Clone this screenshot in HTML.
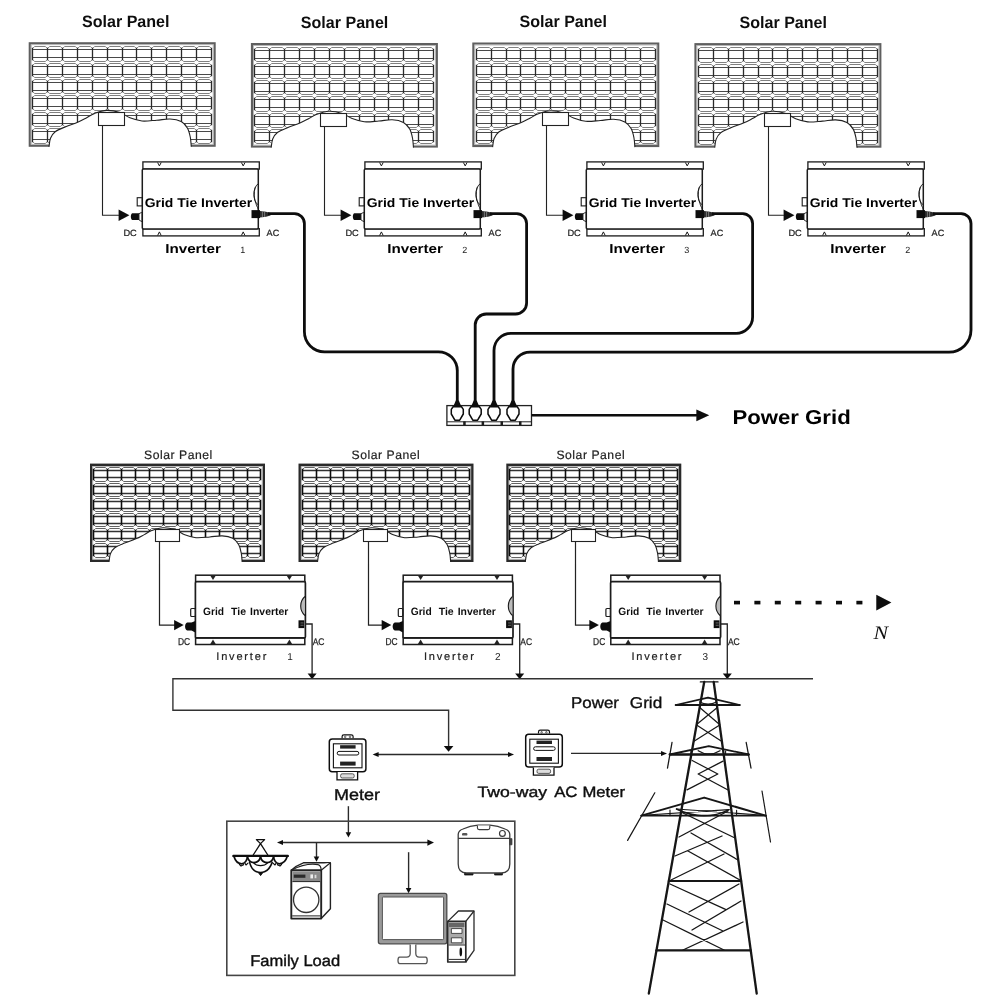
<!DOCTYPE html>
<html><head><meta charset="utf-8"><title>Grid Tie Inverter Wiring Diagram</title>
<style>html,body{margin:0;padding:0;background:#fff;}body{width:1000px;height:1000px;overflow:hidden;}svg{display:block;}</style>
</head><body>
<svg width="1000" height="1000" viewBox="0 0 1000 1000" text-rendering="geometricPrecision">
<rect width="1000" height="1000" fill="#fff"/>
<defs>
<filter id="soft" x="-2%" y="-2%" width="104%" height="104%"><feGaussianBlur stdDeviation="0.45"/></filter>
<filter id="soft2" x="-2%" y="-2%" width="104%" height="104%"><feGaussianBlur stdDeviation="0.3"/></filter>
<g id="invT">
<g fill="#fff" stroke="#1a1a1a" stroke-width="1.3">
<rect x="0.9" y="0.6" width="116.4" height="7.2"/>
<rect x="0.9" y="67.4" width="116.4" height="7.2"/>
<rect x="0.3" y="7.6" width="116" height="60" rx="1.2" stroke-width="1.5"/>
</g>
<g fill="none" stroke="#1a1a1a" stroke-width="1">
<path d="M15.6 1.2L17.4 4.6L19.2 1.2"/>
<path d="M99.4 1.2L101.2 4.6L103 1.2"/>
<path d="M15.6 74.2L17.4 70.6L19.2 74.2"/>
<path d="M99.4 74.2L101.2 70.6L103 74.2"/>
<path d="M116 22.5C110.5 27 110.5 39 116 43.5"/>
<path d="M113.2 26C111.6 31 112 38 114 42.5C115 46 116.4 47 116.6 49.5" stroke-width="0.9"/>
<rect x="-4.8" y="36.4" width="4.8" height="8.2" fill="#fff" stroke-width="1.1"/>
</g>
<path d="M-9.8 52H-2.9V58.8H-9.8C-11.6 57.8 -11.6 53 -9.8 52Z" fill="#111"/>
<path d="M-3 52.4L-0.2 51V60.4L-3 58.6Z" fill="#fff" stroke="#1a1a1a" stroke-width="0.9"/>
<path d="M-23.4 48.2L-12.6 54L-23.4 59.8Z" fill="#111"/>
<path d="M109.5 48.8H118V56.8H109.5Z" fill="#111"/>
<path d="M118 49.6L124 50.4L128.5 51.6V54.2L124 55.4L118 56.2Z" fill="#2a2a2a"/>
<path d="M120.4 50.2V55.8M122.6 50.4V55.6" stroke="#999" stroke-width="0.7"/>
</g>
<g id="invB">
<g fill="#fff" stroke="#1a1a1a" stroke-width="1.5">
<rect x="0.7" y="0.7" width="109.2" height="6.6"/>
<rect x="0.7" y="63.4" width="109.2" height="6.6"/>
<rect x="0.5" y="7.2" width="110" height="56.2" rx="1.2" stroke-width="1.7"/>
</g>
<g fill="#222" stroke="none">
<path d="M15.6 1.4H20.6L18.1 5.4Z"/>
<path d="M92 1.4H97L94.5 5.4Z"/>
<path d="M15.4 69.6L18.1 65L20.8 69.6Z"/>
<path d="M91.8 69.6L94.5 65L97.2 69.6Z"/>
</g>
<g fill="none" stroke="#1a1a1a" stroke-width="1.1">
<path d="M110 22C104.4 27 104.4 36 110 41" fill="#bbb"/>
<rect x="-4.2" y="34" width="4.4" height="8" rx="1" fill="#fff" stroke-width="1.2"/>
</g>
<path d="M-7.6 48H-3.4L0.4 46.6V58L-3.4 56H-7.6C-10.6 55 -10.6 49 -7.6 48Z" fill="#0c0c0c"/>
<path d="M-20.8 45.4L-11.2 50.6L-20.8 55.8Z" fill="#0c0c0c"/>
<rect x="103.6" y="45.8" width="5.8" height="7.8" fill="#111"/>
<path d="M105.6 48.4H108.6M105.6 50.8H108.6" stroke="#999" stroke-width="0.6"/>
</g>
<g id="meter">
<path d="M13.5 0V-1.6Q13.5 -3.4 15.3 -3.4H22.7Q24.5 -3.4 24.5 -1.6V0" fill="#fff" stroke="#111" stroke-width="1.2"/>
<circle cx="16.6" cy="-1.3" r="0.8" fill="#fff" stroke="#111" stroke-width="0.6"/><circle cx="21.4" cy="-1.3" r="0.8" fill="#fff" stroke="#111" stroke-width="0.6"/>
<rect x="0.7" y="0.7" width="36.6" height="32.8" rx="3" fill="#fff" stroke="#111" stroke-width="1.5"/>
<rect x="4.8" y="5.6" width="28.6" height="24" fill="#fff" stroke="#111" stroke-width="1.1"/>
<rect x="11.5" y="7" width="15.5" height="3.4" fill="#222"/>
<rect x="11.5" y="23.4" width="15.5" height="4" fill="#222"/>
<rect x="8.6" y="13.2" width="21.6" height="3.6" rx="1.8" fill="#fff" stroke="#111" stroke-width="1"/>
<path d="M8.4 33.8V41.6H29V33.8" fill="#fff" stroke="#111" stroke-width="1.3"/>
<rect x="12" y="35.6" width="13.6" height="4.2" rx="1.6" fill="#ddd" stroke="#333" stroke-width="0.8"/>
</g>
</defs>
<g filter="url(#soft2)">
<text x="82" y="27.2" font-family='"Liberation Sans", sans-serif' font-size="16.5" font-weight="bold" font-style="normal" fill="#111" textLength="87.5" lengthAdjust="spacingAndGlyphs" >Solar Panel</text>
<g filter="url(#soft)">
<rect x="29.75" y="43.25" width="184.9" height="102.5" fill="#fff" stroke="#5e5e5e" stroke-width="2.1"/>
<rect x="31.2" y="44.7" width="182.0" height="99.6" fill="none" stroke="#aaa" stroke-width="0.8"/>
<path d="M34.6 46.5L45.4 46.5L47.2 48.3M47.2 59.7L45.4 61.5L34.6 61.5L32.8 59.7M32.8 48.3L34.6 46.5M49.6 46.5L60.4 46.5L62.2 48.3M62.2 59.7L60.4 61.5L49.6 61.5L47.8 59.7M47.8 48.3L49.6 46.5M64.6 46.5L75.4 46.5L77.2 48.3M77.2 59.7L75.4 61.5L64.6 61.5L62.8 59.7M62.8 48.3L64.6 46.5M79.6 46.5L90.4 46.5L92.2 48.3M92.2 59.7L90.4 61.5L79.6 61.5L77.8 59.7M77.8 48.3L79.6 46.5M94.6 46.5L105.4 46.5L107.2 48.3M107.2 59.7L105.4 61.5L94.6 61.5L92.8 59.7M92.8 48.3L94.6 46.5M109.6 46.5L120.4 46.5L122.2 48.3M122.2 59.7L120.4 61.5L109.6 61.5L107.8 59.7M107.8 48.3L109.6 46.5M124.6 46.5L134.4 46.5L136.2 48.3M136.2 59.7L134.4 61.5L124.6 61.5L122.8 59.7M122.8 48.3L124.6 46.5M138.6 46.5L149.4 46.5L151.2 48.3M151.2 59.7L149.4 61.5L138.6 61.5L136.8 59.7M136.8 48.3L138.6 46.5M153.6 46.5L164.4 46.5L166.2 48.3M166.2 59.7L164.4 61.5L153.6 61.5L151.8 59.7M151.8 48.3L153.6 46.5M168.6 46.5L179.4 46.5L181.2 48.3M181.2 59.7L179.4 61.5L168.6 61.5L166.8 59.7M166.8 48.3L168.6 46.5M183.6 46.5L194.4 46.5L196.2 48.3M196.2 59.7L194.4 61.5L183.6 61.5L181.8 59.7M181.8 48.3L183.6 46.5M198.6 46.5L209.4 46.5L211.2 48.3M211.2 59.7L209.4 61.5L198.6 61.5L196.8 59.7M196.8 48.3L198.6 46.5M34.6 63.5L45.4 63.5L47.2 65.3M47.2 75.7L45.4 77.5L34.6 77.5L32.8 75.7M32.8 65.3L34.6 63.5M49.6 63.5L60.4 63.5L62.2 65.3M62.2 75.7L60.4 77.5L49.6 77.5L47.8 75.7M47.8 65.3L49.6 63.5M64.6 63.5L75.4 63.5L77.2 65.3M77.2 75.7L75.4 77.5L64.6 77.5L62.8 75.7M62.8 65.3L64.6 63.5M79.6 63.5L90.4 63.5L92.2 65.3M92.2 75.7L90.4 77.5L79.6 77.5L77.8 75.7M77.8 65.3L79.6 63.5M94.6 63.5L105.4 63.5L107.2 65.3M107.2 75.7L105.4 77.5L94.6 77.5L92.8 75.7M92.8 65.3L94.6 63.5M109.6 63.5L120.4 63.5L122.2 65.3M122.2 75.7L120.4 77.5L109.6 77.5L107.8 75.7M107.8 65.3L109.6 63.5M124.6 63.5L134.4 63.5L136.2 65.3M136.2 75.7L134.4 77.5L124.6 77.5L122.8 75.7M122.8 65.3L124.6 63.5M138.6 63.5L149.4 63.5L151.2 65.3M151.2 75.7L149.4 77.5L138.6 77.5L136.8 75.7M136.8 65.3L138.6 63.5M153.6 63.5L164.4 63.5L166.2 65.3M166.2 75.7L164.4 77.5L153.6 77.5L151.8 75.7M151.8 65.3L153.6 63.5M168.6 63.5L179.4 63.5L181.2 65.3M181.2 75.7L179.4 77.5L168.6 77.5L166.8 75.7M166.8 65.3L168.6 63.5M183.6 63.5L194.4 63.5L196.2 65.3M196.2 75.7L194.4 77.5L183.6 77.5L181.8 75.7M181.8 65.3L183.6 63.5M198.6 63.5L209.4 63.5L211.2 65.3M211.2 75.7L209.4 77.5L198.6 77.5L196.8 75.7M196.8 65.3L198.6 63.5M34.6 79.5L45.4 79.5L47.2 81.3M47.2 91.7L45.4 93.5L34.6 93.5L32.8 91.7M32.8 81.3L34.6 79.5M49.6 79.5L60.4 79.5L62.2 81.3M62.2 91.7L60.4 93.5L49.6 93.5L47.8 91.7M47.8 81.3L49.6 79.5M64.6 79.5L75.4 79.5L77.2 81.3M77.2 91.7L75.4 93.5L64.6 93.5L62.8 91.7M62.8 81.3L64.6 79.5M79.6 79.5L90.4 79.5L92.2 81.3M92.2 91.7L90.4 93.5L79.6 93.5L77.8 91.7M77.8 81.3L79.6 79.5M94.6 79.5L105.4 79.5L107.2 81.3M107.2 91.7L105.4 93.5L94.6 93.5L92.8 91.7M92.8 81.3L94.6 79.5M109.6 79.5L120.4 79.5L122.2 81.3M122.2 91.7L120.4 93.5L109.6 93.5L107.8 91.7M107.8 81.3L109.6 79.5M124.6 79.5L134.4 79.5L136.2 81.3M136.2 91.7L134.4 93.5L124.6 93.5L122.8 91.7M122.8 81.3L124.6 79.5M138.6 79.5L149.4 79.5L151.2 81.3M151.2 91.7L149.4 93.5L138.6 93.5L136.8 91.7M136.8 81.3L138.6 79.5M153.6 79.5L164.4 79.5L166.2 81.3M166.2 91.7L164.4 93.5L153.6 93.5L151.8 91.7M151.8 81.3L153.6 79.5M168.6 79.5L179.4 79.5L181.2 81.3M181.2 91.7L179.4 93.5L168.6 93.5L166.8 91.7M166.8 81.3L168.6 79.5M183.6 79.5L194.4 79.5L196.2 81.3M196.2 91.7L194.4 93.5L183.6 93.5L181.8 91.7M181.8 81.3L183.6 79.5M198.6 79.5L209.4 79.5L211.2 81.3M211.2 91.7L209.4 93.5L198.6 93.5L196.8 91.7M196.8 81.3L198.6 79.5M34.6 95.5L45.4 95.5L47.2 97.3M47.2 108.7L45.4 110.5L34.6 110.5L32.8 108.7M32.8 97.3L34.6 95.5M49.6 95.5L60.4 95.5L62.2 97.3M62.2 108.7L60.4 110.5L49.6 110.5L47.8 108.7M47.8 97.3L49.6 95.5M64.6 95.5L75.4 95.5L77.2 97.3M77.2 108.7L75.4 110.5L64.6 110.5L62.8 108.7M62.8 97.3L64.6 95.5M79.6 95.5L90.4 95.5L92.2 97.3M92.2 108.7L90.4 110.5L79.6 110.5L77.8 108.7M77.8 97.3L79.6 95.5M94.6 95.5L105.4 95.5L107.2 97.3M107.2 108.7L105.4 110.5L94.6 110.5L92.8 108.7M92.8 97.3L94.6 95.5M109.6 95.5L120.4 95.5L122.2 97.3M122.2 108.7L120.4 110.5L109.6 110.5L107.8 108.7M107.8 97.3L109.6 95.5M124.6 95.5L134.4 95.5L136.2 97.3M136.2 108.7L134.4 110.5L124.6 110.5L122.8 108.7M122.8 97.3L124.6 95.5M138.6 95.5L149.4 95.5L151.2 97.3M151.2 108.7L149.4 110.5L138.6 110.5L136.8 108.7M136.8 97.3L138.6 95.5M153.6 95.5L164.4 95.5L166.2 97.3M166.2 108.7L164.4 110.5L153.6 110.5L151.8 108.7M151.8 97.3L153.6 95.5M168.6 95.5L179.4 95.5L181.2 97.3M181.2 108.7L179.4 110.5L168.6 110.5L166.8 108.7M166.8 97.3L168.6 95.5M183.6 95.5L194.4 95.5L196.2 97.3M196.2 108.7L194.4 110.5L183.6 110.5L181.8 108.7M181.8 97.3L183.6 95.5M198.6 95.5L209.4 95.5L211.2 97.3M211.2 108.7L209.4 110.5L198.6 110.5L196.8 108.7M196.8 97.3L198.6 95.5M34.6 112.5L45.4 112.5L47.2 114.3M47.2 124.7L45.4 126.5L34.6 126.5L32.8 124.7M32.8 114.3L34.6 112.5M49.6 112.5L60.4 112.5L62.2 114.3M62.2 124.7L60.4 126.5L49.6 126.5L47.8 124.7M47.8 114.3L49.6 112.5M64.6 112.5L75.4 112.5L77.2 114.3M77.2 124.7L75.4 126.5L64.6 126.5L62.8 124.7M62.8 114.3L64.6 112.5M79.6 112.5L90.4 112.5L92.2 114.3M92.2 124.7L90.4 126.5L79.6 126.5L77.8 124.7M77.8 114.3L79.6 112.5M94.6 112.5L105.4 112.5L107.2 114.3M107.2 124.7L105.4 126.5L94.6 126.5L92.8 124.7M92.8 114.3L94.6 112.5M109.6 112.5L120.4 112.5L122.2 114.3M122.2 124.7L120.4 126.5L109.6 126.5L107.8 124.7M107.8 114.3L109.6 112.5M124.6 112.5L134.4 112.5L136.2 114.3M136.2 124.7L134.4 126.5L124.6 126.5L122.8 124.7M122.8 114.3L124.6 112.5M138.6 112.5L149.4 112.5L151.2 114.3M151.2 124.7L149.4 126.5L138.6 126.5L136.8 124.7M136.8 114.3L138.6 112.5M153.6 112.5L164.4 112.5L166.2 114.3M166.2 124.7L164.4 126.5L153.6 126.5L151.8 124.7M151.8 114.3L153.6 112.5M168.6 112.5L179.4 112.5L181.2 114.3M181.2 124.7L179.4 126.5L168.6 126.5L166.8 124.7M166.8 114.3L168.6 112.5M183.6 112.5L194.4 112.5L196.2 114.3M196.2 124.7L194.4 126.5L183.6 126.5L181.8 124.7M181.8 114.3L183.6 112.5M198.6 112.5L209.4 112.5L211.2 114.3M211.2 124.7L209.4 126.5L198.6 126.5L196.8 124.7M196.8 114.3L198.6 112.5M34.6 128.5L45.4 128.5L47.2 130.3M47.2 141.7L45.4 143.5L34.6 143.5L32.8 141.7M32.8 130.3L34.6 128.5M49.6 128.5L60.4 128.5L62.2 130.3M62.2 141.7L60.4 143.5L49.6 143.5L47.8 141.7M47.8 130.3L49.6 128.5M64.6 128.5L75.4 128.5L77.2 130.3M77.2 141.7L75.4 143.5L64.6 143.5L62.8 141.7M62.8 130.3L64.6 128.5M79.6 128.5L90.4 128.5L92.2 130.3M92.2 141.7L90.4 143.5L79.6 143.5L77.8 141.7M77.8 130.3L79.6 128.5M94.6 128.5L105.4 128.5L107.2 130.3M107.2 141.7L105.4 143.5L94.6 143.5L92.8 141.7M92.8 130.3L94.6 128.5M109.6 128.5L120.4 128.5L122.2 130.3M122.2 141.7L120.4 143.5L109.6 143.5L107.8 141.7M107.8 130.3L109.6 128.5M124.6 128.5L134.4 128.5L136.2 130.3M136.2 141.7L134.4 143.5L124.6 143.5L122.8 141.7M122.8 130.3L124.6 128.5M138.6 128.5L149.4 128.5L151.2 130.3M151.2 141.7L149.4 143.5L138.6 143.5L136.8 141.7M136.8 130.3L138.6 128.5M153.6 128.5L164.4 128.5L166.2 130.3M166.2 141.7L164.4 143.5L153.6 143.5L151.8 141.7M151.8 130.3L153.6 128.5M168.6 128.5L179.4 128.5L181.2 130.3M181.2 141.7L179.4 143.5L168.6 143.5L166.8 141.7M166.8 130.3L168.6 128.5M183.6 128.5L194.4 128.5L196.2 130.3M196.2 141.7L194.4 143.5L183.6 143.5L181.8 141.7M181.8 130.3L183.6 128.5M198.6 128.5L209.4 128.5L211.2 130.3M211.2 141.7L209.4 143.5L198.6 143.5L196.8 141.7M196.8 130.3L198.6 128.5" fill="none" stroke="#6a6a6a" stroke-width="0.85"/>
<path d="M32.8 49.5H47.2M32.8 57.5H47.2M47.8 49.5H62.2M47.8 57.5H62.2M62.8 49.5H77.2M62.8 57.5H77.2M77.8 49.5H92.2M77.8 57.5H92.2M92.8 49.5H107.2M92.8 57.5H107.2M107.8 49.5H122.2M107.8 57.5H122.2M122.8 49.5H136.2M122.8 57.5H136.2M136.8 49.5H151.2M136.8 57.5H151.2M151.8 49.5H166.2M151.8 57.5H166.2M166.8 49.5H181.2M166.8 57.5H181.2M181.8 49.5H196.2M181.8 57.5H196.2M196.8 49.5H211.2M196.8 57.5H211.2M32.8 66.5H47.2M32.8 74.5H47.2M47.8 66.5H62.2M47.8 74.5H62.2M62.8 66.5H77.2M62.8 74.5H77.2M77.8 66.5H92.2M77.8 74.5H92.2M92.8 66.5H107.2M92.8 74.5H107.2M107.8 66.5H122.2M107.8 74.5H122.2M122.8 66.5H136.2M122.8 74.5H136.2M136.8 66.5H151.2M136.8 74.5H151.2M151.8 66.5H166.2M151.8 74.5H166.2M166.8 66.5H181.2M166.8 74.5H181.2M181.8 66.5H196.2M181.8 74.5H196.2M196.8 66.5H211.2M196.8 74.5H211.2M32.8 82.5H47.2M32.8 90.5H47.2M47.8 82.5H62.2M47.8 90.5H62.2M62.8 82.5H77.2M62.8 90.5H77.2M77.8 82.5H92.2M77.8 90.5H92.2M92.8 82.5H107.2M92.8 90.5H107.2M107.8 82.5H122.2M107.8 90.5H122.2M122.8 82.5H136.2M122.8 90.5H136.2M136.8 82.5H151.2M136.8 90.5H151.2M151.8 82.5H166.2M151.8 90.5H166.2M166.8 82.5H181.2M166.8 90.5H181.2M181.8 82.5H196.2M181.8 90.5H196.2M196.8 82.5H211.2M196.8 90.5H211.2M32.8 98.5H47.2M32.8 106.5H47.2M47.8 98.5H62.2M47.8 106.5H62.2M62.8 98.5H77.2M62.8 106.5H77.2M77.8 98.5H92.2M77.8 106.5H92.2M92.8 98.5H107.2M92.8 106.5H107.2M107.8 98.5H122.2M107.8 106.5H122.2M122.8 98.5H136.2M122.8 106.5H136.2M136.8 98.5H151.2M136.8 106.5H151.2M151.8 98.5H166.2M151.8 106.5H166.2M166.8 98.5H181.2M166.8 106.5H181.2M181.8 98.5H196.2M181.8 106.5H196.2M196.8 98.5H211.2M196.8 106.5H211.2M32.8 115.5H47.2M32.8 123.5H47.2M47.8 115.5H62.2M47.8 123.5H62.2M62.8 115.5H77.2M62.8 123.5H77.2M77.8 115.5H92.2M77.8 123.5H92.2M92.8 115.5H107.2M92.8 123.5H107.2M107.8 115.5H122.2M107.8 123.5H122.2M122.8 115.5H136.2M122.8 123.5H136.2M136.8 115.5H151.2M136.8 123.5H151.2M151.8 115.5H166.2M151.8 123.5H166.2M166.8 115.5H181.2M166.8 123.5H181.2M181.8 115.5H196.2M181.8 123.5H196.2M196.8 115.5H211.2M196.8 123.5H211.2M32.8 131.5H47.2M32.8 139.5H47.2M47.8 131.5H62.2M47.8 139.5H62.2M62.8 131.5H77.2M62.8 139.5H77.2M77.8 131.5H92.2M77.8 139.5H92.2M92.8 131.5H107.2M92.8 139.5H107.2M107.8 131.5H122.2M107.8 139.5H122.2M122.8 131.5H136.2M122.8 139.5H136.2M136.8 131.5H151.2M136.8 139.5H151.2M151.8 131.5H166.2M151.8 139.5H166.2M166.8 131.5H181.2M166.8 139.5H181.2M181.8 131.5H196.2M181.8 139.5H196.2M196.8 131.5H211.2M196.8 139.5H211.2" fill="none" stroke="#4a4a4a" stroke-width="1.05"/>
<path d="M32.5 47.7V60.3M32.5 64.7V76.3M32.5 80.7V92.3M32.5 96.7V109.3M32.5 113.7V125.3M32.5 129.7V142.3M47.5 47.7V60.3M47.5 64.7V76.3M47.5 80.7V92.3M47.5 96.7V109.3M47.5 113.7V125.3M47.5 129.7V142.3M62.5 47.7V60.3M62.5 64.7V76.3M62.5 80.7V92.3M62.5 96.7V109.3M62.5 113.7V125.3M62.5 129.7V142.3M77.5 47.7V60.3M77.5 64.7V76.3M77.5 80.7V92.3M77.5 96.7V109.3M77.5 113.7V125.3M77.5 129.7V142.3M92.5 47.7V60.3M92.5 64.7V76.3M92.5 80.7V92.3M92.5 96.7V109.3M92.5 113.7V125.3M92.5 129.7V142.3M107.5 47.7V60.3M107.5 64.7V76.3M107.5 80.7V92.3M107.5 96.7V109.3M107.5 113.7V125.3M107.5 129.7V142.3M122.5 47.7V60.3M122.5 64.7V76.3M122.5 80.7V92.3M122.5 96.7V109.3M122.5 113.7V125.3M122.5 129.7V142.3M136.5 47.7V60.3M136.5 64.7V76.3M136.5 80.7V92.3M136.5 96.7V109.3M136.5 113.7V125.3M136.5 129.7V142.3M151.5 47.7V60.3M151.5 64.7V76.3M151.5 80.7V92.3M151.5 96.7V109.3M151.5 113.7V125.3M151.5 129.7V142.3M166.5 47.7V60.3M166.5 64.7V76.3M166.5 80.7V92.3M166.5 96.7V109.3M166.5 113.7V125.3M166.5 129.7V142.3M181.5 47.7V60.3M181.5 64.7V76.3M181.5 80.7V92.3M181.5 96.7V109.3M181.5 113.7V125.3M181.5 129.7V142.3M196.5 47.7V60.3M196.5 64.7V76.3M196.5 80.7V92.3M196.5 96.7V109.3M196.5 113.7V125.3M196.5 129.7V142.3M211.5 47.7V60.3M211.5 64.7V76.3M211.5 80.7V92.3M211.5 96.7V109.3M211.5 113.7V125.3M211.5 129.7V142.3" fill="none" stroke="#2a2a2a" stroke-width="1.3"/>
<path d="M49.00 146.80C49.25 145.37 49.47 140.72 50.50 138.20C51.53 135.68 52.67 133.62 55.20 131.70C57.73 129.78 61.95 128.28 65.70 126.70C69.45 125.12 74.20 123.70 77.70 122.20C81.20 120.70 83.87 119.17 86.70 117.70C89.53 116.23 91.37 114.62 94.70 113.40C98.03 112.18 102.48 110.53 106.70 110.40C110.92 110.27 116.12 111.37 120.00 112.60C123.88 113.83 126.33 116.40 130.00 117.80C133.67 119.20 137.55 120.60 142.00 121.00C146.45 121.40 152.03 120.53 156.70 120.20C161.37 119.87 165.92 118.77 170.00 119.00C174.08 119.23 178.28 120.07 181.20 121.60C184.12 123.13 185.98 125.60 187.50 128.20C189.02 130.80 189.67 134.10 190.30 137.20C190.93 140.30 191.13 145.20 191.30 146.80L191.30 148.80L49.00 148.80Z" fill="#fff" stroke="none"/>
<path d="M49.00 146.80C49.25 145.37 49.47 140.72 50.50 138.20C51.53 135.68 52.67 133.62 55.20 131.70C57.73 129.78 61.95 128.28 65.70 126.70C69.45 125.12 74.20 123.70 77.70 122.20C81.20 120.70 83.87 119.17 86.70 117.70C89.53 116.23 91.37 114.62 94.70 113.40C98.03 112.18 102.48 110.53 106.70 110.40C110.92 110.27 116.12 111.37 120.00 112.60C123.88 113.83 126.33 116.40 130.00 117.80C133.67 119.20 137.55 120.60 142.00 121.00C146.45 121.40 152.03 120.53 156.70 120.20C161.37 119.87 165.92 118.77 170.00 119.00C174.08 119.23 178.28 120.07 181.20 121.60C184.12 123.13 185.98 125.60 187.50 128.20C189.02 130.80 189.67 134.10 190.30 137.20C190.93 140.30 191.13 145.20 191.30 146.80" fill="none" stroke="#222" stroke-width="1.1"/>
<rect x="98.5" y="112.5" width="26" height="13" fill="#fff" stroke="#222" stroke-width="1.1"/>
</g>
<path d="M102.5 125.7V215.3H119" fill="none" stroke="#222" stroke-width="1.1"/>
<use href="#invT" x="142" y="161.3"/>
<text x="144.7" y="206.9" font-family='"Liberation Sans", sans-serif' font-size="12.6" font-weight="bold" font-style="normal" fill="#000" textLength="107.5" lengthAdjust="spacingAndGlyphs" >Grid Tie Inverter</text>
<text x="123.4" y="236.2" font-family='"Liberation Sans", sans-serif' font-size="9" font-weight="normal" font-style="normal" fill="#222" stroke="#222" stroke-width="0.2" textLength="13.4" lengthAdjust="spacingAndGlyphs" >DC</text>
<text x="266.6" y="236.2" font-family='"Liberation Sans", sans-serif' font-size="9" font-weight="normal" font-style="normal" fill="#222" stroke="#222" stroke-width="0.2" textLength="12.6" lengthAdjust="spacingAndGlyphs" >AC</text>
<text x="165.2" y="252.8" font-family='"Liberation Sans", sans-serif' font-size="13" font-weight="bold" font-style="normal" fill="#000" textLength="55.8" lengthAdjust="spacingAndGlyphs" >Inverter</text>
<text x="240.2" y="253.4" font-family='"Liberation Sans", sans-serif' font-size="9" font-weight="normal" font-style="normal" fill="#222" >1</text>
<text x="300.8" y="28.2" font-family='"Liberation Sans", sans-serif' font-size="16.5" font-weight="bold" font-style="normal" fill="#111" textLength="87.5" lengthAdjust="spacingAndGlyphs" >Solar Panel</text>
<g filter="url(#soft)">
<rect x="251.95000000000002" y="44.05" width="184.9" height="102.5" fill="#fff" stroke="#5e5e5e" stroke-width="2.1"/>
<rect x="253.4" y="45.5" width="182.0" height="99.6" fill="none" stroke="#aaa" stroke-width="0.8"/>
<path d="M256.6 47.5L267.4 47.5L269.2 49.3M269.2 59.7L267.4 61.5L256.6 61.5L254.8 59.7M254.8 49.3L256.6 47.5M271.6 47.5L282.4 47.5L284.2 49.3M284.2 59.7L282.4 61.5L271.6 61.5L269.8 59.7M269.8 49.3L271.6 47.5M286.6 47.5L297.4 47.5L299.2 49.3M299.2 59.7L297.4 61.5L286.6 61.5L284.8 59.7M284.8 49.3L286.6 47.5M301.6 47.5L312.4 47.5L314.2 49.3M314.2 59.7L312.4 61.5L301.6 61.5L299.8 59.7M299.8 49.3L301.6 47.5M316.6 47.5L327.4 47.5L329.2 49.3M329.2 59.7L327.4 61.5L316.6 61.5L314.8 59.7M314.8 49.3L316.6 47.5M331.6 47.5L342.4 47.5L344.2 49.3M344.2 59.7L342.4 61.5L331.6 61.5L329.8 59.7M329.8 49.3L331.6 47.5M346.6 47.5L357.4 47.5L359.2 49.3M359.2 59.7L357.4 61.5L346.6 61.5L344.8 59.7M344.8 49.3L346.6 47.5M361.6 47.5L372.4 47.5L374.2 49.3M374.2 59.7L372.4 61.5L361.6 61.5L359.8 59.7M359.8 49.3L361.6 47.5M376.6 47.5L386.4 47.5L388.2 49.3M388.2 59.7L386.4 61.5L376.6 61.5L374.8 59.7M374.8 49.3L376.6 47.5M390.6 47.5L401.4 47.5L403.2 49.3M403.2 59.7L401.4 61.5L390.6 61.5L388.8 59.7M388.8 49.3L390.6 47.5M405.6 47.5L416.4 47.5L418.2 49.3M418.2 59.7L416.4 61.5L405.6 61.5L403.8 59.7M403.8 49.3L405.6 47.5M420.6 47.5L431.4 47.5L433.2 49.3M433.2 59.7L431.4 61.5L420.6 61.5L418.8 59.7M418.8 49.3L420.6 47.5M256.6 63.5L267.4 63.5L269.2 65.3M269.2 76.7L267.4 78.5L256.6 78.5L254.8 76.7M254.8 65.3L256.6 63.5M271.6 63.5L282.4 63.5L284.2 65.3M284.2 76.7L282.4 78.5L271.6 78.5L269.8 76.7M269.8 65.3L271.6 63.5M286.6 63.5L297.4 63.5L299.2 65.3M299.2 76.7L297.4 78.5L286.6 78.5L284.8 76.7M284.8 65.3L286.6 63.5M301.6 63.5L312.4 63.5L314.2 65.3M314.2 76.7L312.4 78.5L301.6 78.5L299.8 76.7M299.8 65.3L301.6 63.5M316.6 63.5L327.4 63.5L329.2 65.3M329.2 76.7L327.4 78.5L316.6 78.5L314.8 76.7M314.8 65.3L316.6 63.5M331.6 63.5L342.4 63.5L344.2 65.3M344.2 76.7L342.4 78.5L331.6 78.5L329.8 76.7M329.8 65.3L331.6 63.5M346.6 63.5L357.4 63.5L359.2 65.3M359.2 76.7L357.4 78.5L346.6 78.5L344.8 76.7M344.8 65.3L346.6 63.5M361.6 63.5L372.4 63.5L374.2 65.3M374.2 76.7L372.4 78.5L361.6 78.5L359.8 76.7M359.8 65.3L361.6 63.5M376.6 63.5L386.4 63.5L388.2 65.3M388.2 76.7L386.4 78.5L376.6 78.5L374.8 76.7M374.8 65.3L376.6 63.5M390.6 63.5L401.4 63.5L403.2 65.3M403.2 76.7L401.4 78.5L390.6 78.5L388.8 76.7M388.8 65.3L390.6 63.5M405.6 63.5L416.4 63.5L418.2 65.3M418.2 76.7L416.4 78.5L405.6 78.5L403.8 76.7M403.8 65.3L405.6 63.5M420.6 63.5L431.4 63.5L433.2 65.3M433.2 76.7L431.4 78.5L420.6 78.5L418.8 76.7M418.8 65.3L420.6 63.5M256.6 80.5L267.4 80.5L269.2 82.3M269.2 92.7L267.4 94.5L256.6 94.5L254.8 92.7M254.8 82.3L256.6 80.5M271.6 80.5L282.4 80.5L284.2 82.3M284.2 92.7L282.4 94.5L271.6 94.5L269.8 92.7M269.8 82.3L271.6 80.5M286.6 80.5L297.4 80.5L299.2 82.3M299.2 92.7L297.4 94.5L286.6 94.5L284.8 92.7M284.8 82.3L286.6 80.5M301.6 80.5L312.4 80.5L314.2 82.3M314.2 92.7L312.4 94.5L301.6 94.5L299.8 92.7M299.8 82.3L301.6 80.5M316.6 80.5L327.4 80.5L329.2 82.3M329.2 92.7L327.4 94.5L316.6 94.5L314.8 92.7M314.8 82.3L316.6 80.5M331.6 80.5L342.4 80.5L344.2 82.3M344.2 92.7L342.4 94.5L331.6 94.5L329.8 92.7M329.8 82.3L331.6 80.5M346.6 80.5L357.4 80.5L359.2 82.3M359.2 92.7L357.4 94.5L346.6 94.5L344.8 92.7M344.8 82.3L346.6 80.5M361.6 80.5L372.4 80.5L374.2 82.3M374.2 92.7L372.4 94.5L361.6 94.5L359.8 92.7M359.8 82.3L361.6 80.5M376.6 80.5L386.4 80.5L388.2 82.3M388.2 92.7L386.4 94.5L376.6 94.5L374.8 92.7M374.8 82.3L376.6 80.5M390.6 80.5L401.4 80.5L403.2 82.3M403.2 92.7L401.4 94.5L390.6 94.5L388.8 92.7M388.8 82.3L390.6 80.5M405.6 80.5L416.4 80.5L418.2 82.3M418.2 92.7L416.4 94.5L405.6 94.5L403.8 92.7M403.8 82.3L405.6 80.5M420.6 80.5L431.4 80.5L433.2 82.3M433.2 92.7L431.4 94.5L420.6 94.5L418.8 92.7M418.8 82.3L420.6 80.5M256.6 96.5L267.4 96.5L269.2 98.3M269.2 109.7L267.4 111.5L256.6 111.5L254.8 109.7M254.8 98.3L256.6 96.5M271.6 96.5L282.4 96.5L284.2 98.3M284.2 109.7L282.4 111.5L271.6 111.5L269.8 109.7M269.8 98.3L271.6 96.5M286.6 96.5L297.4 96.5L299.2 98.3M299.2 109.7L297.4 111.5L286.6 111.5L284.8 109.7M284.8 98.3L286.6 96.5M301.6 96.5L312.4 96.5L314.2 98.3M314.2 109.7L312.4 111.5L301.6 111.5L299.8 109.7M299.8 98.3L301.6 96.5M316.6 96.5L327.4 96.5L329.2 98.3M329.2 109.7L327.4 111.5L316.6 111.5L314.8 109.7M314.8 98.3L316.6 96.5M331.6 96.5L342.4 96.5L344.2 98.3M344.2 109.7L342.4 111.5L331.6 111.5L329.8 109.7M329.8 98.3L331.6 96.5M346.6 96.5L357.4 96.5L359.2 98.3M359.2 109.7L357.4 111.5L346.6 111.5L344.8 109.7M344.8 98.3L346.6 96.5M361.6 96.5L372.4 96.5L374.2 98.3M374.2 109.7L372.4 111.5L361.6 111.5L359.8 109.7M359.8 98.3L361.6 96.5M376.6 96.5L386.4 96.5L388.2 98.3M388.2 109.7L386.4 111.5L376.6 111.5L374.8 109.7M374.8 98.3L376.6 96.5M390.6 96.5L401.4 96.5L403.2 98.3M403.2 109.7L401.4 111.5L390.6 111.5L388.8 109.7M388.8 98.3L390.6 96.5M405.6 96.5L416.4 96.5L418.2 98.3M418.2 109.7L416.4 111.5L405.6 111.5L403.8 109.7M403.8 98.3L405.6 96.5M420.6 96.5L431.4 96.5L433.2 98.3M433.2 109.7L431.4 111.5L420.6 111.5L418.8 109.7M418.8 98.3L420.6 96.5M256.6 113.5L267.4 113.5L269.2 115.3M269.2 125.7L267.4 127.5L256.6 127.5L254.8 125.7M254.8 115.3L256.6 113.5M271.6 113.5L282.4 113.5L284.2 115.3M284.2 125.7L282.4 127.5L271.6 127.5L269.8 125.7M269.8 115.3L271.6 113.5M286.6 113.5L297.4 113.5L299.2 115.3M299.2 125.7L297.4 127.5L286.6 127.5L284.8 125.7M284.8 115.3L286.6 113.5M301.6 113.5L312.4 113.5L314.2 115.3M314.2 125.7L312.4 127.5L301.6 127.5L299.8 125.7M299.8 115.3L301.6 113.5M316.6 113.5L327.4 113.5L329.2 115.3M329.2 125.7L327.4 127.5L316.6 127.5L314.8 125.7M314.8 115.3L316.6 113.5M331.6 113.5L342.4 113.5L344.2 115.3M344.2 125.7L342.4 127.5L331.6 127.5L329.8 125.7M329.8 115.3L331.6 113.5M346.6 113.5L357.4 113.5L359.2 115.3M359.2 125.7L357.4 127.5L346.6 127.5L344.8 125.7M344.8 115.3L346.6 113.5M361.6 113.5L372.4 113.5L374.2 115.3M374.2 125.7L372.4 127.5L361.6 127.5L359.8 125.7M359.8 115.3L361.6 113.5M376.6 113.5L386.4 113.5L388.2 115.3M388.2 125.7L386.4 127.5L376.6 127.5L374.8 125.7M374.8 115.3L376.6 113.5M390.6 113.5L401.4 113.5L403.2 115.3M403.2 125.7L401.4 127.5L390.6 127.5L388.8 125.7M388.8 115.3L390.6 113.5M405.6 113.5L416.4 113.5L418.2 115.3M418.2 125.7L416.4 127.5L405.6 127.5L403.8 125.7M403.8 115.3L405.6 113.5M420.6 113.5L431.4 113.5L433.2 115.3M433.2 125.7L431.4 127.5L420.6 127.5L418.8 125.7M418.8 115.3L420.6 113.5M256.6 129.5L267.4 129.5L269.2 131.3M269.2 141.7L267.4 143.5L256.6 143.5L254.8 141.7M254.8 131.3L256.6 129.5M271.6 129.5L282.4 129.5L284.2 131.3M284.2 141.7L282.4 143.5L271.6 143.5L269.8 141.7M269.8 131.3L271.6 129.5M286.6 129.5L297.4 129.5L299.2 131.3M299.2 141.7L297.4 143.5L286.6 143.5L284.8 141.7M284.8 131.3L286.6 129.5M301.6 129.5L312.4 129.5L314.2 131.3M314.2 141.7L312.4 143.5L301.6 143.5L299.8 141.7M299.8 131.3L301.6 129.5M316.6 129.5L327.4 129.5L329.2 131.3M329.2 141.7L327.4 143.5L316.6 143.5L314.8 141.7M314.8 131.3L316.6 129.5M331.6 129.5L342.4 129.5L344.2 131.3M344.2 141.7L342.4 143.5L331.6 143.5L329.8 141.7M329.8 131.3L331.6 129.5M346.6 129.5L357.4 129.5L359.2 131.3M359.2 141.7L357.4 143.5L346.6 143.5L344.8 141.7M344.8 131.3L346.6 129.5M361.6 129.5L372.4 129.5L374.2 131.3M374.2 141.7L372.4 143.5L361.6 143.5L359.8 141.7M359.8 131.3L361.6 129.5M376.6 129.5L386.4 129.5L388.2 131.3M388.2 141.7L386.4 143.5L376.6 143.5L374.8 141.7M374.8 131.3L376.6 129.5M390.6 129.5L401.4 129.5L403.2 131.3M403.2 141.7L401.4 143.5L390.6 143.5L388.8 141.7M388.8 131.3L390.6 129.5M405.6 129.5L416.4 129.5L418.2 131.3M418.2 141.7L416.4 143.5L405.6 143.5L403.8 141.7M403.8 131.3L405.6 129.5M420.6 129.5L431.4 129.5L433.2 131.3M433.2 141.7L431.4 143.5L420.6 143.5L418.8 141.7M418.8 131.3L420.6 129.5" fill="none" stroke="#6a6a6a" stroke-width="0.85"/>
<path d="M254.8 50.5H269.2M254.8 58.5H269.2M269.8 50.5H284.2M269.8 58.5H284.2M284.8 50.5H299.2M284.8 58.5H299.2M299.8 50.5H314.2M299.8 58.5H314.2M314.8 50.5H329.2M314.8 58.5H329.2M329.8 50.5H344.2M329.8 58.5H344.2M344.8 50.5H359.2M344.8 58.5H359.2M359.8 50.5H374.2M359.8 58.5H374.2M374.8 50.5H388.2M374.8 58.5H388.2M388.8 50.5H403.2M388.8 58.5H403.2M403.8 50.5H418.2M403.8 58.5H418.2M418.8 50.5H433.2M418.8 58.5H433.2M254.8 66.5H269.2M254.8 74.5H269.2M269.8 66.5H284.2M269.8 74.5H284.2M284.8 66.5H299.2M284.8 74.5H299.2M299.8 66.5H314.2M299.8 74.5H314.2M314.8 66.5H329.2M314.8 74.5H329.2M329.8 66.5H344.2M329.8 74.5H344.2M344.8 66.5H359.2M344.8 74.5H359.2M359.8 66.5H374.2M359.8 74.5H374.2M374.8 66.5H388.2M374.8 74.5H388.2M388.8 66.5H403.2M388.8 74.5H403.2M403.8 66.5H418.2M403.8 74.5H418.2M418.8 66.5H433.2M418.8 74.5H433.2M254.8 83.5H269.2M254.8 91.5H269.2M269.8 83.5H284.2M269.8 91.5H284.2M284.8 83.5H299.2M284.8 91.5H299.2M299.8 83.5H314.2M299.8 91.5H314.2M314.8 83.5H329.2M314.8 91.5H329.2M329.8 83.5H344.2M329.8 91.5H344.2M344.8 83.5H359.2M344.8 91.5H359.2M359.8 83.5H374.2M359.8 91.5H374.2M374.8 83.5H388.2M374.8 91.5H388.2M388.8 83.5H403.2M388.8 91.5H403.2M403.8 83.5H418.2M403.8 91.5H418.2M418.8 83.5H433.2M418.8 91.5H433.2M254.8 99.5H269.2M254.8 107.5H269.2M269.8 99.5H284.2M269.8 107.5H284.2M284.8 99.5H299.2M284.8 107.5H299.2M299.8 99.5H314.2M299.8 107.5H314.2M314.8 99.5H329.2M314.8 107.5H329.2M329.8 99.5H344.2M329.8 107.5H344.2M344.8 99.5H359.2M344.8 107.5H359.2M359.8 99.5H374.2M359.8 107.5H374.2M374.8 99.5H388.2M374.8 107.5H388.2M388.8 99.5H403.2M388.8 107.5H403.2M403.8 99.5H418.2M403.8 107.5H418.2M418.8 99.5H433.2M418.8 107.5H433.2M254.8 116.5H269.2M254.8 124.5H269.2M269.8 116.5H284.2M269.8 124.5H284.2M284.8 116.5H299.2M284.8 124.5H299.2M299.8 116.5H314.2M299.8 124.5H314.2M314.8 116.5H329.2M314.8 124.5H329.2M329.8 116.5H344.2M329.8 124.5H344.2M344.8 116.5H359.2M344.8 124.5H359.2M359.8 116.5H374.2M359.8 124.5H374.2M374.8 116.5H388.2M374.8 124.5H388.2M388.8 116.5H403.2M388.8 124.5H403.2M403.8 116.5H418.2M403.8 124.5H418.2M418.8 116.5H433.2M418.8 124.5H433.2M254.8 132.5H269.2M254.8 140.5H269.2M269.8 132.5H284.2M269.8 140.5H284.2M284.8 132.5H299.2M284.8 140.5H299.2M299.8 132.5H314.2M299.8 140.5H314.2M314.8 132.5H329.2M314.8 140.5H329.2M329.8 132.5H344.2M329.8 140.5H344.2M344.8 132.5H359.2M344.8 140.5H359.2M359.8 132.5H374.2M359.8 140.5H374.2M374.8 132.5H388.2M374.8 140.5H388.2M388.8 132.5H403.2M388.8 140.5H403.2M403.8 132.5H418.2M403.8 140.5H418.2M418.8 132.5H433.2M418.8 140.5H433.2" fill="none" stroke="#4a4a4a" stroke-width="1.05"/>
<path d="M254.5 48.7V60.3M254.5 64.7V77.3M254.5 81.7V93.3M254.5 97.7V110.3M254.5 114.7V126.3M254.5 130.7V142.3M269.5 48.7V60.3M269.5 64.7V77.3M269.5 81.7V93.3M269.5 97.7V110.3M269.5 114.7V126.3M269.5 130.7V142.3M284.5 48.7V60.3M284.5 64.7V77.3M284.5 81.7V93.3M284.5 97.7V110.3M284.5 114.7V126.3M284.5 130.7V142.3M299.5 48.7V60.3M299.5 64.7V77.3M299.5 81.7V93.3M299.5 97.7V110.3M299.5 114.7V126.3M299.5 130.7V142.3M314.5 48.7V60.3M314.5 64.7V77.3M314.5 81.7V93.3M314.5 97.7V110.3M314.5 114.7V126.3M314.5 130.7V142.3M329.5 48.7V60.3M329.5 64.7V77.3M329.5 81.7V93.3M329.5 97.7V110.3M329.5 114.7V126.3M329.5 130.7V142.3M344.5 48.7V60.3M344.5 64.7V77.3M344.5 81.7V93.3M344.5 97.7V110.3M344.5 114.7V126.3M344.5 130.7V142.3M359.5 48.7V60.3M359.5 64.7V77.3M359.5 81.7V93.3M359.5 97.7V110.3M359.5 114.7V126.3M359.5 130.7V142.3M374.5 48.7V60.3M374.5 64.7V77.3M374.5 81.7V93.3M374.5 97.7V110.3M374.5 114.7V126.3M374.5 130.7V142.3M388.5 48.7V60.3M388.5 64.7V77.3M388.5 81.7V93.3M388.5 97.7V110.3M388.5 114.7V126.3M388.5 130.7V142.3M403.5 48.7V60.3M403.5 64.7V77.3M403.5 81.7V93.3M403.5 97.7V110.3M403.5 114.7V126.3M403.5 130.7V142.3M418.5 48.7V60.3M418.5 64.7V77.3M418.5 81.7V93.3M418.5 97.7V110.3M418.5 114.7V126.3M418.5 130.7V142.3M433.5 48.7V60.3M433.5 64.7V77.3M433.5 81.7V93.3M433.5 97.7V110.3M433.5 114.7V126.3M433.5 130.7V142.3" fill="none" stroke="#2a2a2a" stroke-width="1.3"/>
<path d="M271.20 147.60C271.45 146.17 271.67 141.52 272.70 139.00C273.73 136.48 274.87 134.42 277.40 132.50C279.93 130.58 284.15 129.08 287.90 127.50C291.65 125.92 296.40 124.50 299.90 123.00C303.40 121.50 306.07 119.97 308.90 118.50C311.73 117.03 313.57 115.42 316.90 114.20C320.23 112.98 324.68 111.33 328.90 111.20C333.12 111.07 338.32 112.17 342.20 113.40C346.08 114.63 348.53 117.20 352.20 118.60C355.87 120.00 359.75 121.40 364.20 121.80C368.65 122.20 374.23 121.33 378.90 121.00C383.57 120.67 388.12 119.57 392.20 119.80C396.28 120.03 400.48 120.87 403.40 122.40C406.32 123.93 408.18 126.40 409.70 129.00C411.22 131.60 411.87 134.90 412.50 138.00C413.13 141.10 413.33 146.00 413.50 147.60L413.50 149.60L271.20 149.60Z" fill="#fff" stroke="none"/>
<path d="M271.20 147.60C271.45 146.17 271.67 141.52 272.70 139.00C273.73 136.48 274.87 134.42 277.40 132.50C279.93 130.58 284.15 129.08 287.90 127.50C291.65 125.92 296.40 124.50 299.90 123.00C303.40 121.50 306.07 119.97 308.90 118.50C311.73 117.03 313.57 115.42 316.90 114.20C320.23 112.98 324.68 111.33 328.90 111.20C333.12 111.07 338.32 112.17 342.20 113.40C346.08 114.63 348.53 117.20 352.20 118.60C355.87 120.00 359.75 121.40 364.20 121.80C368.65 122.20 374.23 121.33 378.90 121.00C383.57 120.67 388.12 119.57 392.20 119.80C396.28 120.03 400.48 120.87 403.40 122.40C406.32 123.93 408.18 126.40 409.70 129.00C411.22 131.60 411.87 134.90 412.50 138.00C413.13 141.10 413.33 146.00 413.50 147.60" fill="none" stroke="#222" stroke-width="1.1"/>
<rect x="320.5" y="113.5" width="26" height="13" fill="#fff" stroke="#222" stroke-width="1.1"/>
</g>
<path d="M324.5 126.5V215.3H341" fill="none" stroke="#222" stroke-width="1.1"/>
<use href="#invT" x="364" y="161.3"/>
<text x="366.7" y="206.9" font-family='"Liberation Sans", sans-serif' font-size="12.6" font-weight="bold" font-style="normal" fill="#000" textLength="107.5" lengthAdjust="spacingAndGlyphs" >Grid Tie Inverter</text>
<text x="345.4" y="236.2" font-family='"Liberation Sans", sans-serif' font-size="9" font-weight="normal" font-style="normal" fill="#222" stroke="#222" stroke-width="0.2" textLength="13.4" lengthAdjust="spacingAndGlyphs" >DC</text>
<text x="488.6" y="236.2" font-family='"Liberation Sans", sans-serif' font-size="9" font-weight="normal" font-style="normal" fill="#222" stroke="#222" stroke-width="0.2" textLength="12.6" lengthAdjust="spacingAndGlyphs" >AC</text>
<text x="387.2" y="252.8" font-family='"Liberation Sans", sans-serif' font-size="13" font-weight="bold" font-style="normal" fill="#000" textLength="55.8" lengthAdjust="spacingAndGlyphs" >Inverter</text>
<text x="462.2" y="253.4" font-family='"Liberation Sans", sans-serif' font-size="9" font-weight="normal" font-style="normal" fill="#222" >2</text>
<text x="519.5" y="26.6" font-family='"Liberation Sans", sans-serif' font-size="16.5" font-weight="bold" font-style="normal" fill="#111" textLength="87.5" lengthAdjust="spacingAndGlyphs" >Solar Panel</text>
<g filter="url(#soft)">
<rect x="473.35" y="43.55" width="184.9" height="102.5" fill="#fff" stroke="#5e5e5e" stroke-width="2.1"/>
<rect x="474.8" y="45.0" width="182.0" height="99.6" fill="none" stroke="#aaa" stroke-width="0.8"/>
<path d="M478.6 47.5L489.4 47.5L491.2 49.3M491.2 59.7L489.4 61.5L478.6 61.5L476.8 59.7M476.8 49.3L478.6 47.5M493.6 47.5L504.4 47.5L506.2 49.3M506.2 59.7L504.4 61.5L493.6 61.5L491.8 59.7M491.8 49.3L493.6 47.5M508.6 47.5L518.4 47.5L520.2 49.3M520.2 59.7L518.4 61.5L508.6 61.5L506.8 59.7M506.8 49.3L508.6 47.5M522.6 47.5L533.4 47.5L535.2 49.3M535.2 59.7L533.4 61.5L522.6 61.5L520.8 59.7M520.8 49.3L522.6 47.5M537.6 47.5L548.4 47.5L550.2 49.3M550.2 59.7L548.4 61.5L537.6 61.5L535.8 59.7M535.8 49.3L537.6 47.5M552.6 47.5L563.4 47.5L565.2 49.3M565.2 59.7L563.4 61.5L552.6 61.5L550.8 59.7M550.8 49.3L552.6 47.5M567.6 47.5L578.4 47.5L580.2 49.3M580.2 59.7L578.4 61.5L567.6 61.5L565.8 59.7M565.8 49.3L567.6 47.5M582.6 47.5L593.4 47.5L595.2 49.3M595.2 59.7L593.4 61.5L582.6 61.5L580.8 59.7M580.8 49.3L582.6 47.5M597.6 47.5L608.4 47.5L610.2 49.3M610.2 59.7L608.4 61.5L597.6 61.5L595.8 59.7M595.8 49.3L597.6 47.5M612.6 47.5L623.4 47.5L625.2 49.3M625.2 59.7L623.4 61.5L612.6 61.5L610.8 59.7M610.8 49.3L612.6 47.5M627.6 47.5L638.4 47.5L640.2 49.3M640.2 59.7L638.4 61.5L627.6 61.5L625.8 59.7M625.8 49.3L627.6 47.5M642.6 47.5L653.4 47.5L655.2 49.3M655.2 59.7L653.4 61.5L642.6 61.5L640.8 59.7M640.8 49.3L642.6 47.5M478.6 63.5L489.4 63.5L491.2 65.3M491.2 75.7L489.4 77.5L478.6 77.5L476.8 75.7M476.8 65.3L478.6 63.5M493.6 63.5L504.4 63.5L506.2 65.3M506.2 75.7L504.4 77.5L493.6 77.5L491.8 75.7M491.8 65.3L493.6 63.5M508.6 63.5L518.4 63.5L520.2 65.3M520.2 75.7L518.4 77.5L508.6 77.5L506.8 75.7M506.8 65.3L508.6 63.5M522.6 63.5L533.4 63.5L535.2 65.3M535.2 75.7L533.4 77.5L522.6 77.5L520.8 75.7M520.8 65.3L522.6 63.5M537.6 63.5L548.4 63.5L550.2 65.3M550.2 75.7L548.4 77.5L537.6 77.5L535.8 75.7M535.8 65.3L537.6 63.5M552.6 63.5L563.4 63.5L565.2 65.3M565.2 75.7L563.4 77.5L552.6 77.5L550.8 75.7M550.8 65.3L552.6 63.5M567.6 63.5L578.4 63.5L580.2 65.3M580.2 75.7L578.4 77.5L567.6 77.5L565.8 75.7M565.8 65.3L567.6 63.5M582.6 63.5L593.4 63.5L595.2 65.3M595.2 75.7L593.4 77.5L582.6 77.5L580.8 75.7M580.8 65.3L582.6 63.5M597.6 63.5L608.4 63.5L610.2 65.3M610.2 75.7L608.4 77.5L597.6 77.5L595.8 75.7M595.8 65.3L597.6 63.5M612.6 63.5L623.4 63.5L625.2 65.3M625.2 75.7L623.4 77.5L612.6 77.5L610.8 75.7M610.8 65.3L612.6 63.5M627.6 63.5L638.4 63.5L640.2 65.3M640.2 75.7L638.4 77.5L627.6 77.5L625.8 75.7M625.8 65.3L627.6 63.5M642.6 63.5L653.4 63.5L655.2 65.3M655.2 75.7L653.4 77.5L642.6 77.5L640.8 75.7M640.8 65.3L642.6 63.5M478.6 79.5L489.4 79.5L491.2 81.3M491.2 92.7L489.4 94.5L478.6 94.5L476.8 92.7M476.8 81.3L478.6 79.5M493.6 79.5L504.4 79.5L506.2 81.3M506.2 92.7L504.4 94.5L493.6 94.5L491.8 92.7M491.8 81.3L493.6 79.5M508.6 79.5L518.4 79.5L520.2 81.3M520.2 92.7L518.4 94.5L508.6 94.5L506.8 92.7M506.8 81.3L508.6 79.5M522.6 79.5L533.4 79.5L535.2 81.3M535.2 92.7L533.4 94.5L522.6 94.5L520.8 92.7M520.8 81.3L522.6 79.5M537.6 79.5L548.4 79.5L550.2 81.3M550.2 92.7L548.4 94.5L537.6 94.5L535.8 92.7M535.8 81.3L537.6 79.5M552.6 79.5L563.4 79.5L565.2 81.3M565.2 92.7L563.4 94.5L552.6 94.5L550.8 92.7M550.8 81.3L552.6 79.5M567.6 79.5L578.4 79.5L580.2 81.3M580.2 92.7L578.4 94.5L567.6 94.5L565.8 92.7M565.8 81.3L567.6 79.5M582.6 79.5L593.4 79.5L595.2 81.3M595.2 92.7L593.4 94.5L582.6 94.5L580.8 92.7M580.8 81.3L582.6 79.5M597.6 79.5L608.4 79.5L610.2 81.3M610.2 92.7L608.4 94.5L597.6 94.5L595.8 92.7M595.8 81.3L597.6 79.5M612.6 79.5L623.4 79.5L625.2 81.3M625.2 92.7L623.4 94.5L612.6 94.5L610.8 92.7M610.8 81.3L612.6 79.5M627.6 79.5L638.4 79.5L640.2 81.3M640.2 92.7L638.4 94.5L627.6 94.5L625.8 92.7M625.8 81.3L627.6 79.5M642.6 79.5L653.4 79.5L655.2 81.3M655.2 92.7L653.4 94.5L642.6 94.5L640.8 92.7M640.8 81.3L642.6 79.5M478.6 96.5L489.4 96.5L491.2 98.3M491.2 108.7L489.4 110.5L478.6 110.5L476.8 108.7M476.8 98.3L478.6 96.5M493.6 96.5L504.4 96.5L506.2 98.3M506.2 108.7L504.4 110.5L493.6 110.5L491.8 108.7M491.8 98.3L493.6 96.5M508.6 96.5L518.4 96.5L520.2 98.3M520.2 108.7L518.4 110.5L508.6 110.5L506.8 108.7M506.8 98.3L508.6 96.5M522.6 96.5L533.4 96.5L535.2 98.3M535.2 108.7L533.4 110.5L522.6 110.5L520.8 108.7M520.8 98.3L522.6 96.5M537.6 96.5L548.4 96.5L550.2 98.3M550.2 108.7L548.4 110.5L537.6 110.5L535.8 108.7M535.8 98.3L537.6 96.5M552.6 96.5L563.4 96.5L565.2 98.3M565.2 108.7L563.4 110.5L552.6 110.5L550.8 108.7M550.8 98.3L552.6 96.5M567.6 96.5L578.4 96.5L580.2 98.3M580.2 108.7L578.4 110.5L567.6 110.5L565.8 108.7M565.8 98.3L567.6 96.5M582.6 96.5L593.4 96.5L595.2 98.3M595.2 108.7L593.4 110.5L582.6 110.5L580.8 108.7M580.8 98.3L582.6 96.5M597.6 96.5L608.4 96.5L610.2 98.3M610.2 108.7L608.4 110.5L597.6 110.5L595.8 108.7M595.8 98.3L597.6 96.5M612.6 96.5L623.4 96.5L625.2 98.3M625.2 108.7L623.4 110.5L612.6 110.5L610.8 108.7M610.8 98.3L612.6 96.5M627.6 96.5L638.4 96.5L640.2 98.3M640.2 108.7L638.4 110.5L627.6 110.5L625.8 108.7M625.8 98.3L627.6 96.5M642.6 96.5L653.4 96.5L655.2 98.3M655.2 108.7L653.4 110.5L642.6 110.5L640.8 108.7M640.8 98.3L642.6 96.5M478.6 112.5L489.4 112.5L491.2 114.3M491.2 125.7L489.4 127.5L478.6 127.5L476.8 125.7M476.8 114.3L478.6 112.5M493.6 112.5L504.4 112.5L506.2 114.3M506.2 125.7L504.4 127.5L493.6 127.5L491.8 125.7M491.8 114.3L493.6 112.5M508.6 112.5L518.4 112.5L520.2 114.3M520.2 125.7L518.4 127.5L508.6 127.5L506.8 125.7M506.8 114.3L508.6 112.5M522.6 112.5L533.4 112.5L535.2 114.3M535.2 125.7L533.4 127.5L522.6 127.5L520.8 125.7M520.8 114.3L522.6 112.5M537.6 112.5L548.4 112.5L550.2 114.3M550.2 125.7L548.4 127.5L537.6 127.5L535.8 125.7M535.8 114.3L537.6 112.5M552.6 112.5L563.4 112.5L565.2 114.3M565.2 125.7L563.4 127.5L552.6 127.5L550.8 125.7M550.8 114.3L552.6 112.5M567.6 112.5L578.4 112.5L580.2 114.3M580.2 125.7L578.4 127.5L567.6 127.5L565.8 125.7M565.8 114.3L567.6 112.5M582.6 112.5L593.4 112.5L595.2 114.3M595.2 125.7L593.4 127.5L582.6 127.5L580.8 125.7M580.8 114.3L582.6 112.5M597.6 112.5L608.4 112.5L610.2 114.3M610.2 125.7L608.4 127.5L597.6 127.5L595.8 125.7M595.8 114.3L597.6 112.5M612.6 112.5L623.4 112.5L625.2 114.3M625.2 125.7L623.4 127.5L612.6 127.5L610.8 125.7M610.8 114.3L612.6 112.5M627.6 112.5L638.4 112.5L640.2 114.3M640.2 125.7L638.4 127.5L627.6 127.5L625.8 125.7M625.8 114.3L627.6 112.5M642.6 112.5L653.4 112.5L655.2 114.3M655.2 125.7L653.4 127.5L642.6 127.5L640.8 125.7M640.8 114.3L642.6 112.5M478.6 129.5L489.4 129.5L491.2 131.3M491.2 141.7L489.4 143.5L478.6 143.5L476.8 141.7M476.8 131.3L478.6 129.5M493.6 129.5L504.4 129.5L506.2 131.3M506.2 141.7L504.4 143.5L493.6 143.5L491.8 141.7M491.8 131.3L493.6 129.5M508.6 129.5L518.4 129.5L520.2 131.3M520.2 141.7L518.4 143.5L508.6 143.5L506.8 141.7M506.8 131.3L508.6 129.5M522.6 129.5L533.4 129.5L535.2 131.3M535.2 141.7L533.4 143.5L522.6 143.5L520.8 141.7M520.8 131.3L522.6 129.5M537.6 129.5L548.4 129.5L550.2 131.3M550.2 141.7L548.4 143.5L537.6 143.5L535.8 141.7M535.8 131.3L537.6 129.5M552.6 129.5L563.4 129.5L565.2 131.3M565.2 141.7L563.4 143.5L552.6 143.5L550.8 141.7M550.8 131.3L552.6 129.5M567.6 129.5L578.4 129.5L580.2 131.3M580.2 141.7L578.4 143.5L567.6 143.5L565.8 141.7M565.8 131.3L567.6 129.5M582.6 129.5L593.4 129.5L595.2 131.3M595.2 141.7L593.4 143.5L582.6 143.5L580.8 141.7M580.8 131.3L582.6 129.5M597.6 129.5L608.4 129.5L610.2 131.3M610.2 141.7L608.4 143.5L597.6 143.5L595.8 141.7M595.8 131.3L597.6 129.5M612.6 129.5L623.4 129.5L625.2 131.3M625.2 141.7L623.4 143.5L612.6 143.5L610.8 141.7M610.8 131.3L612.6 129.5M627.6 129.5L638.4 129.5L640.2 131.3M640.2 141.7L638.4 143.5L627.6 143.5L625.8 141.7M625.8 131.3L627.6 129.5M642.6 129.5L653.4 129.5L655.2 131.3M655.2 141.7L653.4 143.5L642.6 143.5L640.8 141.7M640.8 131.3L642.6 129.5" fill="none" stroke="#6a6a6a" stroke-width="0.85"/>
<path d="M476.8 50.5H491.2M476.8 58.5H491.2M491.8 50.5H506.2M491.8 58.5H506.2M506.8 50.5H520.2M506.8 58.5H520.2M520.8 50.5H535.2M520.8 58.5H535.2M535.8 50.5H550.2M535.8 58.5H550.2M550.8 50.5H565.2M550.8 58.5H565.2M565.8 50.5H580.2M565.8 58.5H580.2M580.8 50.5H595.2M580.8 58.5H595.2M595.8 50.5H610.2M595.8 58.5H610.2M610.8 50.5H625.2M610.8 58.5H625.2M625.8 50.5H640.2M625.8 58.5H640.2M640.8 50.5H655.2M640.8 58.5H655.2M476.8 66.5H491.2M476.8 74.5H491.2M491.8 66.5H506.2M491.8 74.5H506.2M506.8 66.5H520.2M506.8 74.5H520.2M520.8 66.5H535.2M520.8 74.5H535.2M535.8 66.5H550.2M535.8 74.5H550.2M550.8 66.5H565.2M550.8 74.5H565.2M565.8 66.5H580.2M565.8 74.5H580.2M580.8 66.5H595.2M580.8 74.5H595.2M595.8 66.5H610.2M595.8 74.5H610.2M610.8 66.5H625.2M610.8 74.5H625.2M625.8 66.5H640.2M625.8 74.5H640.2M640.8 66.5H655.2M640.8 74.5H655.2M476.8 82.5H491.2M476.8 90.5H491.2M491.8 82.5H506.2M491.8 90.5H506.2M506.8 82.5H520.2M506.8 90.5H520.2M520.8 82.5H535.2M520.8 90.5H535.2M535.8 82.5H550.2M535.8 90.5H550.2M550.8 82.5H565.2M550.8 90.5H565.2M565.8 82.5H580.2M565.8 90.5H580.2M580.8 82.5H595.2M580.8 90.5H595.2M595.8 82.5H610.2M595.8 90.5H610.2M610.8 82.5H625.2M610.8 90.5H625.2M625.8 82.5H640.2M625.8 90.5H640.2M640.8 82.5H655.2M640.8 90.5H655.2M476.8 99.5H491.2M476.8 107.5H491.2M491.8 99.5H506.2M491.8 107.5H506.2M506.8 99.5H520.2M506.8 107.5H520.2M520.8 99.5H535.2M520.8 107.5H535.2M535.8 99.5H550.2M535.8 107.5H550.2M550.8 99.5H565.2M550.8 107.5H565.2M565.8 99.5H580.2M565.8 107.5H580.2M580.8 99.5H595.2M580.8 107.5H595.2M595.8 99.5H610.2M595.8 107.5H610.2M610.8 99.5H625.2M610.8 107.5H625.2M625.8 99.5H640.2M625.8 107.5H640.2M640.8 99.5H655.2M640.8 107.5H655.2M476.8 115.5H491.2M476.8 123.5H491.2M491.8 115.5H506.2M491.8 123.5H506.2M506.8 115.5H520.2M506.8 123.5H520.2M520.8 115.5H535.2M520.8 123.5H535.2M535.8 115.5H550.2M535.8 123.5H550.2M550.8 115.5H565.2M550.8 123.5H565.2M565.8 115.5H580.2M565.8 123.5H580.2M580.8 115.5H595.2M580.8 123.5H595.2M595.8 115.5H610.2M595.8 123.5H610.2M610.8 115.5H625.2M610.8 123.5H625.2M625.8 115.5H640.2M625.8 123.5H640.2M640.8 115.5H655.2M640.8 123.5H655.2M476.8 132.5H491.2M476.8 140.5H491.2M491.8 132.5H506.2M491.8 140.5H506.2M506.8 132.5H520.2M506.8 140.5H520.2M520.8 132.5H535.2M520.8 140.5H535.2M535.8 132.5H550.2M535.8 140.5H550.2M550.8 132.5H565.2M550.8 140.5H565.2M565.8 132.5H580.2M565.8 140.5H580.2M580.8 132.5H595.2M580.8 140.5H595.2M595.8 132.5H610.2M595.8 140.5H610.2M610.8 132.5H625.2M610.8 140.5H625.2M625.8 132.5H640.2M625.8 140.5H640.2M640.8 132.5H655.2M640.8 140.5H655.2" fill="none" stroke="#4a4a4a" stroke-width="1.05"/>
<path d="M476.5 48.7V60.3M476.5 64.7V76.3M476.5 80.7V93.3M476.5 97.7V109.3M476.5 113.7V126.3M476.5 130.7V142.3M491.5 48.7V60.3M491.5 64.7V76.3M491.5 80.7V93.3M491.5 97.7V109.3M491.5 113.7V126.3M491.5 130.7V142.3M506.5 48.7V60.3M506.5 64.7V76.3M506.5 80.7V93.3M506.5 97.7V109.3M506.5 113.7V126.3M506.5 130.7V142.3M520.5 48.7V60.3M520.5 64.7V76.3M520.5 80.7V93.3M520.5 97.7V109.3M520.5 113.7V126.3M520.5 130.7V142.3M535.5 48.7V60.3M535.5 64.7V76.3M535.5 80.7V93.3M535.5 97.7V109.3M535.5 113.7V126.3M535.5 130.7V142.3M550.5 48.7V60.3M550.5 64.7V76.3M550.5 80.7V93.3M550.5 97.7V109.3M550.5 113.7V126.3M550.5 130.7V142.3M565.5 48.7V60.3M565.5 64.7V76.3M565.5 80.7V93.3M565.5 97.7V109.3M565.5 113.7V126.3M565.5 130.7V142.3M580.5 48.7V60.3M580.5 64.7V76.3M580.5 80.7V93.3M580.5 97.7V109.3M580.5 113.7V126.3M580.5 130.7V142.3M595.5 48.7V60.3M595.5 64.7V76.3M595.5 80.7V93.3M595.5 97.7V109.3M595.5 113.7V126.3M595.5 130.7V142.3M610.5 48.7V60.3M610.5 64.7V76.3M610.5 80.7V93.3M610.5 97.7V109.3M610.5 113.7V126.3M610.5 130.7V142.3M625.5 48.7V60.3M625.5 64.7V76.3M625.5 80.7V93.3M625.5 97.7V109.3M625.5 113.7V126.3M625.5 130.7V142.3M640.5 48.7V60.3M640.5 64.7V76.3M640.5 80.7V93.3M640.5 97.7V109.3M640.5 113.7V126.3M640.5 130.7V142.3M655.5 48.7V60.3M655.5 64.7V76.3M655.5 80.7V93.3M655.5 97.7V109.3M655.5 113.7V126.3M655.5 130.7V142.3" fill="none" stroke="#2a2a2a" stroke-width="1.3"/>
<path d="M492.60 147.10C492.85 145.67 493.07 141.02 494.10 138.50C495.13 135.98 496.27 133.92 498.80 132.00C501.33 130.08 505.55 128.58 509.30 127.00C513.05 125.42 517.80 124.00 521.30 122.50C524.80 121.00 527.47 119.47 530.30 118.00C533.13 116.53 534.97 114.92 538.30 113.70C541.63 112.48 546.08 110.83 550.30 110.70C554.52 110.57 559.72 111.67 563.60 112.90C567.48 114.13 569.93 116.70 573.60 118.10C577.27 119.50 581.15 120.90 585.60 121.30C590.05 121.70 595.63 120.83 600.30 120.50C604.97 120.17 609.52 119.07 613.60 119.30C617.68 119.53 621.88 120.37 624.80 121.90C627.72 123.43 629.58 125.90 631.10 128.50C632.62 131.10 633.27 134.40 633.90 137.50C634.53 140.60 634.73 145.50 634.90 147.10L634.90 149.10L492.60 149.10Z" fill="#fff" stroke="none"/>
<path d="M492.60 147.10C492.85 145.67 493.07 141.02 494.10 138.50C495.13 135.98 496.27 133.92 498.80 132.00C501.33 130.08 505.55 128.58 509.30 127.00C513.05 125.42 517.80 124.00 521.30 122.50C524.80 121.00 527.47 119.47 530.30 118.00C533.13 116.53 534.97 114.92 538.30 113.70C541.63 112.48 546.08 110.83 550.30 110.70C554.52 110.57 559.72 111.67 563.60 112.90C567.48 114.13 569.93 116.70 573.60 118.10C577.27 119.50 581.15 120.90 585.60 121.30C590.05 121.70 595.63 120.83 600.30 120.50C604.97 120.17 609.52 119.07 613.60 119.30C617.68 119.53 621.88 120.37 624.80 121.90C627.72 123.43 629.58 125.90 631.10 128.50C632.62 131.10 633.27 134.40 633.90 137.50C634.53 140.60 634.73 145.50 634.90 147.10" fill="none" stroke="#222" stroke-width="1.1"/>
<rect x="542.5" y="112.5" width="26" height="13" fill="#fff" stroke="#222" stroke-width="1.1"/>
</g>
<path d="M546.5 126.0V215.3H563" fill="none" stroke="#222" stroke-width="1.1"/>
<use href="#invT" x="586" y="161.3"/>
<text x="588.7" y="206.9" font-family='"Liberation Sans", sans-serif' font-size="12.6" font-weight="bold" font-style="normal" fill="#000" textLength="107.5" lengthAdjust="spacingAndGlyphs" >Grid Tie Inverter</text>
<text x="567.4" y="236.2" font-family='"Liberation Sans", sans-serif' font-size="9" font-weight="normal" font-style="normal" fill="#222" stroke="#222" stroke-width="0.2" textLength="13.4" lengthAdjust="spacingAndGlyphs" >DC</text>
<text x="710.6" y="236.2" font-family='"Liberation Sans", sans-serif' font-size="9" font-weight="normal" font-style="normal" fill="#222" stroke="#222" stroke-width="0.2" textLength="12.6" lengthAdjust="spacingAndGlyphs" >AC</text>
<text x="609.2" y="252.8" font-family='"Liberation Sans", sans-serif' font-size="13" font-weight="bold" font-style="normal" fill="#000" textLength="55.8" lengthAdjust="spacingAndGlyphs" >Inverter</text>
<text x="684.2" y="253.4" font-family='"Liberation Sans", sans-serif' font-size="9" font-weight="normal" font-style="normal" fill="#222" >3</text>
<text x="739.5" y="27.8" font-family='"Liberation Sans", sans-serif' font-size="16.5" font-weight="bold" font-style="normal" fill="#111" textLength="87.5" lengthAdjust="spacingAndGlyphs" >Solar Panel</text>
<g filter="url(#soft)">
<rect x="695.4499999999999" y="44.15" width="184.9" height="102.5" fill="#fff" stroke="#5e5e5e" stroke-width="2.1"/>
<rect x="696.9" y="45.6" width="182.0" height="99.6" fill="none" stroke="#aaa" stroke-width="0.8"/>
<path d="M700.6 47.5L711.4 47.5L713.2 49.3M713.2 60.7L711.4 62.5L700.6 62.5L698.8 60.7M698.8 49.3L700.6 47.5M715.6 47.5L726.4 47.5L728.2 49.3M728.2 60.7L726.4 62.5L715.6 62.5L713.8 60.7M713.8 49.3L715.6 47.5M730.6 47.5L741.4 47.5L743.2 49.3M743.2 60.7L741.4 62.5L730.6 62.5L728.8 60.7M728.8 49.3L730.6 47.5M745.6 47.5L756.4 47.5L758.2 49.3M758.2 60.7L756.4 62.5L745.6 62.5L743.8 60.7M743.8 49.3L745.6 47.5M760.6 47.5L770.4 47.5L772.2 49.3M772.2 60.7L770.4 62.5L760.6 62.5L758.8 60.7M758.8 49.3L760.6 47.5M774.6 47.5L785.4 47.5L787.2 49.3M787.2 60.7L785.4 62.5L774.6 62.5L772.8 60.7M772.8 49.3L774.6 47.5M789.6 47.5L800.4 47.5L802.2 49.3M802.2 60.7L800.4 62.5L789.6 62.5L787.8 60.7M787.8 49.3L789.6 47.5M804.6 47.5L815.4 47.5L817.2 49.3M817.2 60.7L815.4 62.5L804.6 62.5L802.8 60.7M802.8 49.3L804.6 47.5M819.6 47.5L830.4 47.5L832.2 49.3M832.2 60.7L830.4 62.5L819.6 62.5L817.8 60.7M817.8 49.3L819.6 47.5M834.6 47.5L845.4 47.5L847.2 49.3M847.2 60.7L845.4 62.5L834.6 62.5L832.8 60.7M832.8 49.3L834.6 47.5M849.6 47.5L860.4 47.5L862.2 49.3M862.2 60.7L860.4 62.5L849.6 62.5L847.8 60.7M847.8 49.3L849.6 47.5M864.6 47.5L875.4 47.5L877.2 49.3M877.2 60.7L875.4 62.5L864.6 62.5L862.8 60.7M862.8 49.3L864.6 47.5M700.6 64.5L711.4 64.5L713.2 66.3M713.2 76.7L711.4 78.5L700.6 78.5L698.8 76.7M698.8 66.3L700.6 64.5M715.6 64.5L726.4 64.5L728.2 66.3M728.2 76.7L726.4 78.5L715.6 78.5L713.8 76.7M713.8 66.3L715.6 64.5M730.6 64.5L741.4 64.5L743.2 66.3M743.2 76.7L741.4 78.5L730.6 78.5L728.8 76.7M728.8 66.3L730.6 64.5M745.6 64.5L756.4 64.5L758.2 66.3M758.2 76.7L756.4 78.5L745.6 78.5L743.8 76.7M743.8 66.3L745.6 64.5M760.6 64.5L770.4 64.5L772.2 66.3M772.2 76.7L770.4 78.5L760.6 78.5L758.8 76.7M758.8 66.3L760.6 64.5M774.6 64.5L785.4 64.5L787.2 66.3M787.2 76.7L785.4 78.5L774.6 78.5L772.8 76.7M772.8 66.3L774.6 64.5M789.6 64.5L800.4 64.5L802.2 66.3M802.2 76.7L800.4 78.5L789.6 78.5L787.8 76.7M787.8 66.3L789.6 64.5M804.6 64.5L815.4 64.5L817.2 66.3M817.2 76.7L815.4 78.5L804.6 78.5L802.8 76.7M802.8 66.3L804.6 64.5M819.6 64.5L830.4 64.5L832.2 66.3M832.2 76.7L830.4 78.5L819.6 78.5L817.8 76.7M817.8 66.3L819.6 64.5M834.6 64.5L845.4 64.5L847.2 66.3M847.2 76.7L845.4 78.5L834.6 78.5L832.8 76.7M832.8 66.3L834.6 64.5M849.6 64.5L860.4 64.5L862.2 66.3M862.2 76.7L860.4 78.5L849.6 78.5L847.8 76.7M847.8 66.3L849.6 64.5M864.6 64.5L875.4 64.5L877.2 66.3M877.2 76.7L875.4 78.5L864.6 78.5L862.8 76.7M862.8 66.3L864.6 64.5M700.6 80.5L711.4 80.5L713.2 82.3M713.2 92.7L711.4 94.5L700.6 94.5L698.8 92.7M698.8 82.3L700.6 80.5M715.6 80.5L726.4 80.5L728.2 82.3M728.2 92.7L726.4 94.5L715.6 94.5L713.8 92.7M713.8 82.3L715.6 80.5M730.6 80.5L741.4 80.5L743.2 82.3M743.2 92.7L741.4 94.5L730.6 94.5L728.8 92.7M728.8 82.3L730.6 80.5M745.6 80.5L756.4 80.5L758.2 82.3M758.2 92.7L756.4 94.5L745.6 94.5L743.8 92.7M743.8 82.3L745.6 80.5M760.6 80.5L770.4 80.5L772.2 82.3M772.2 92.7L770.4 94.5L760.6 94.5L758.8 92.7M758.8 82.3L760.6 80.5M774.6 80.5L785.4 80.5L787.2 82.3M787.2 92.7L785.4 94.5L774.6 94.5L772.8 92.7M772.8 82.3L774.6 80.5M789.6 80.5L800.4 80.5L802.2 82.3M802.2 92.7L800.4 94.5L789.6 94.5L787.8 92.7M787.8 82.3L789.6 80.5M804.6 80.5L815.4 80.5L817.2 82.3M817.2 92.7L815.4 94.5L804.6 94.5L802.8 92.7M802.8 82.3L804.6 80.5M819.6 80.5L830.4 80.5L832.2 82.3M832.2 92.7L830.4 94.5L819.6 94.5L817.8 92.7M817.8 82.3L819.6 80.5M834.6 80.5L845.4 80.5L847.2 82.3M847.2 92.7L845.4 94.5L834.6 94.5L832.8 92.7M832.8 82.3L834.6 80.5M849.6 80.5L860.4 80.5L862.2 82.3M862.2 92.7L860.4 94.5L849.6 94.5L847.8 92.7M847.8 82.3L849.6 80.5M864.6 80.5L875.4 80.5L877.2 82.3M877.2 92.7L875.4 94.5L864.6 94.5L862.8 92.7M862.8 82.3L864.6 80.5M700.6 96.5L711.4 96.5L713.2 98.3M713.2 109.7L711.4 111.5L700.6 111.5L698.8 109.7M698.8 98.3L700.6 96.5M715.6 96.5L726.4 96.5L728.2 98.3M728.2 109.7L726.4 111.5L715.6 111.5L713.8 109.7M713.8 98.3L715.6 96.5M730.6 96.5L741.4 96.5L743.2 98.3M743.2 109.7L741.4 111.5L730.6 111.5L728.8 109.7M728.8 98.3L730.6 96.5M745.6 96.5L756.4 96.5L758.2 98.3M758.2 109.7L756.4 111.5L745.6 111.5L743.8 109.7M743.8 98.3L745.6 96.5M760.6 96.5L770.4 96.5L772.2 98.3M772.2 109.7L770.4 111.5L760.6 111.5L758.8 109.7M758.8 98.3L760.6 96.5M774.6 96.5L785.4 96.5L787.2 98.3M787.2 109.7L785.4 111.5L774.6 111.5L772.8 109.7M772.8 98.3L774.6 96.5M789.6 96.5L800.4 96.5L802.2 98.3M802.2 109.7L800.4 111.5L789.6 111.5L787.8 109.7M787.8 98.3L789.6 96.5M804.6 96.5L815.4 96.5L817.2 98.3M817.2 109.7L815.4 111.5L804.6 111.5L802.8 109.7M802.8 98.3L804.6 96.5M819.6 96.5L830.4 96.5L832.2 98.3M832.2 109.7L830.4 111.5L819.6 111.5L817.8 109.7M817.8 98.3L819.6 96.5M834.6 96.5L845.4 96.5L847.2 98.3M847.2 109.7L845.4 111.5L834.6 111.5L832.8 109.7M832.8 98.3L834.6 96.5M849.6 96.5L860.4 96.5L862.2 98.3M862.2 109.7L860.4 111.5L849.6 111.5L847.8 109.7M847.8 98.3L849.6 96.5M864.6 96.5L875.4 96.5L877.2 98.3M877.2 109.7L875.4 111.5L864.6 111.5L862.8 109.7M862.8 98.3L864.6 96.5M700.6 113.5L711.4 113.5L713.2 115.3M713.2 125.7L711.4 127.5L700.6 127.5L698.8 125.7M698.8 115.3L700.6 113.5M715.6 113.5L726.4 113.5L728.2 115.3M728.2 125.7L726.4 127.5L715.6 127.5L713.8 125.7M713.8 115.3L715.6 113.5M730.6 113.5L741.4 113.5L743.2 115.3M743.2 125.7L741.4 127.5L730.6 127.5L728.8 125.7M728.8 115.3L730.6 113.5M745.6 113.5L756.4 113.5L758.2 115.3M758.2 125.7L756.4 127.5L745.6 127.5L743.8 125.7M743.8 115.3L745.6 113.5M760.6 113.5L770.4 113.5L772.2 115.3M772.2 125.7L770.4 127.5L760.6 127.5L758.8 125.7M758.8 115.3L760.6 113.5M774.6 113.5L785.4 113.5L787.2 115.3M787.2 125.7L785.4 127.5L774.6 127.5L772.8 125.7M772.8 115.3L774.6 113.5M789.6 113.5L800.4 113.5L802.2 115.3M802.2 125.7L800.4 127.5L789.6 127.5L787.8 125.7M787.8 115.3L789.6 113.5M804.6 113.5L815.4 113.5L817.2 115.3M817.2 125.7L815.4 127.5L804.6 127.5L802.8 125.7M802.8 115.3L804.6 113.5M819.6 113.5L830.4 113.5L832.2 115.3M832.2 125.7L830.4 127.5L819.6 127.5L817.8 125.7M817.8 115.3L819.6 113.5M834.6 113.5L845.4 113.5L847.2 115.3M847.2 125.7L845.4 127.5L834.6 127.5L832.8 125.7M832.8 115.3L834.6 113.5M849.6 113.5L860.4 113.5L862.2 115.3M862.2 125.7L860.4 127.5L849.6 127.5L847.8 125.7M847.8 115.3L849.6 113.5M864.6 113.5L875.4 113.5L877.2 115.3M877.2 125.7L875.4 127.5L864.6 127.5L862.8 125.7M862.8 115.3L864.6 113.5M700.6 129.5L711.4 129.5L713.2 131.3M713.2 142.7L711.4 144.5L700.6 144.5L698.8 142.7M698.8 131.3L700.6 129.5M715.6 129.5L726.4 129.5L728.2 131.3M728.2 142.7L726.4 144.5L715.6 144.5L713.8 142.7M713.8 131.3L715.6 129.5M730.6 129.5L741.4 129.5L743.2 131.3M743.2 142.7L741.4 144.5L730.6 144.5L728.8 142.7M728.8 131.3L730.6 129.5M745.6 129.5L756.4 129.5L758.2 131.3M758.2 142.7L756.4 144.5L745.6 144.5L743.8 142.7M743.8 131.3L745.6 129.5M760.6 129.5L770.4 129.5L772.2 131.3M772.2 142.7L770.4 144.5L760.6 144.5L758.8 142.7M758.8 131.3L760.6 129.5M774.6 129.5L785.4 129.5L787.2 131.3M787.2 142.7L785.4 144.5L774.6 144.5L772.8 142.7M772.8 131.3L774.6 129.5M789.6 129.5L800.4 129.5L802.2 131.3M802.2 142.7L800.4 144.5L789.6 144.5L787.8 142.7M787.8 131.3L789.6 129.5M804.6 129.5L815.4 129.5L817.2 131.3M817.2 142.7L815.4 144.5L804.6 144.5L802.8 142.7M802.8 131.3L804.6 129.5M819.6 129.5L830.4 129.5L832.2 131.3M832.2 142.7L830.4 144.5L819.6 144.5L817.8 142.7M817.8 131.3L819.6 129.5M834.6 129.5L845.4 129.5L847.2 131.3M847.2 142.7L845.4 144.5L834.6 144.5L832.8 142.7M832.8 131.3L834.6 129.5M849.6 129.5L860.4 129.5L862.2 131.3M862.2 142.7L860.4 144.5L849.6 144.5L847.8 142.7M847.8 131.3L849.6 129.5M864.6 129.5L875.4 129.5L877.2 131.3M877.2 142.7L875.4 144.5L864.6 144.5L862.8 142.7M862.8 131.3L864.6 129.5" fill="none" stroke="#6a6a6a" stroke-width="0.85"/>
<path d="M698.8 50.5H713.2M698.8 58.5H713.2M713.8 50.5H728.2M713.8 58.5H728.2M728.8 50.5H743.2M728.8 58.5H743.2M743.8 50.5H758.2M743.8 58.5H758.2M758.8 50.5H772.2M758.8 58.5H772.2M772.8 50.5H787.2M772.8 58.5H787.2M787.8 50.5H802.2M787.8 58.5H802.2M802.8 50.5H817.2M802.8 58.5H817.2M817.8 50.5H832.2M817.8 58.5H832.2M832.8 50.5H847.2M832.8 58.5H847.2M847.8 50.5H862.2M847.8 58.5H862.2M862.8 50.5H877.2M862.8 58.5H877.2M698.8 67.5H713.2M698.8 75.5H713.2M713.8 67.5H728.2M713.8 75.5H728.2M728.8 67.5H743.2M728.8 75.5H743.2M743.8 67.5H758.2M743.8 75.5H758.2M758.8 67.5H772.2M758.8 75.5H772.2M772.8 67.5H787.2M772.8 75.5H787.2M787.8 67.5H802.2M787.8 75.5H802.2M802.8 67.5H817.2M802.8 75.5H817.2M817.8 67.5H832.2M817.8 75.5H832.2M832.8 67.5H847.2M832.8 75.5H847.2M847.8 67.5H862.2M847.8 75.5H862.2M862.8 67.5H877.2M862.8 75.5H877.2M698.8 83.5H713.2M698.8 91.5H713.2M713.8 83.5H728.2M713.8 91.5H728.2M728.8 83.5H743.2M728.8 91.5H743.2M743.8 83.5H758.2M743.8 91.5H758.2M758.8 83.5H772.2M758.8 91.5H772.2M772.8 83.5H787.2M772.8 91.5H787.2M787.8 83.5H802.2M787.8 91.5H802.2M802.8 83.5H817.2M802.8 91.5H817.2M817.8 83.5H832.2M817.8 91.5H832.2M832.8 83.5H847.2M832.8 91.5H847.2M847.8 83.5H862.2M847.8 91.5H862.2M862.8 83.5H877.2M862.8 91.5H877.2M698.8 99.5H713.2M698.8 107.5H713.2M713.8 99.5H728.2M713.8 107.5H728.2M728.8 99.5H743.2M728.8 107.5H743.2M743.8 99.5H758.2M743.8 107.5H758.2M758.8 99.5H772.2M758.8 107.5H772.2M772.8 99.5H787.2M772.8 107.5H787.2M787.8 99.5H802.2M787.8 107.5H802.2M802.8 99.5H817.2M802.8 107.5H817.2M817.8 99.5H832.2M817.8 107.5H832.2M832.8 99.5H847.2M832.8 107.5H847.2M847.8 99.5H862.2M847.8 107.5H862.2M862.8 99.5H877.2M862.8 107.5H877.2M698.8 116.5H713.2M698.8 124.5H713.2M713.8 116.5H728.2M713.8 124.5H728.2M728.8 116.5H743.2M728.8 124.5H743.2M743.8 116.5H758.2M743.8 124.5H758.2M758.8 116.5H772.2M758.8 124.5H772.2M772.8 116.5H787.2M772.8 124.5H787.2M787.8 116.5H802.2M787.8 124.5H802.2M802.8 116.5H817.2M802.8 124.5H817.2M817.8 116.5H832.2M817.8 124.5H832.2M832.8 116.5H847.2M832.8 124.5H847.2M847.8 116.5H862.2M847.8 124.5H862.2M862.8 116.5H877.2M862.8 124.5H877.2M698.8 132.5H713.2M698.8 140.5H713.2M713.8 132.5H728.2M713.8 140.5H728.2M728.8 132.5H743.2M728.8 140.5H743.2M743.8 132.5H758.2M743.8 140.5H758.2M758.8 132.5H772.2M758.8 140.5H772.2M772.8 132.5H787.2M772.8 140.5H787.2M787.8 132.5H802.2M787.8 140.5H802.2M802.8 132.5H817.2M802.8 140.5H817.2M817.8 132.5H832.2M817.8 140.5H832.2M832.8 132.5H847.2M832.8 140.5H847.2M847.8 132.5H862.2M847.8 140.5H862.2M862.8 132.5H877.2M862.8 140.5H877.2" fill="none" stroke="#4a4a4a" stroke-width="1.05"/>
<path d="M698.5 48.7V61.3M698.5 65.7V77.3M698.5 81.7V93.3M698.5 97.7V110.3M698.5 114.7V126.3M698.5 130.7V143.3M713.5 48.7V61.3M713.5 65.7V77.3M713.5 81.7V93.3M713.5 97.7V110.3M713.5 114.7V126.3M713.5 130.7V143.3M728.5 48.7V61.3M728.5 65.7V77.3M728.5 81.7V93.3M728.5 97.7V110.3M728.5 114.7V126.3M728.5 130.7V143.3M743.5 48.7V61.3M743.5 65.7V77.3M743.5 81.7V93.3M743.5 97.7V110.3M743.5 114.7V126.3M743.5 130.7V143.3M758.5 48.7V61.3M758.5 65.7V77.3M758.5 81.7V93.3M758.5 97.7V110.3M758.5 114.7V126.3M758.5 130.7V143.3M772.5 48.7V61.3M772.5 65.7V77.3M772.5 81.7V93.3M772.5 97.7V110.3M772.5 114.7V126.3M772.5 130.7V143.3M787.5 48.7V61.3M787.5 65.7V77.3M787.5 81.7V93.3M787.5 97.7V110.3M787.5 114.7V126.3M787.5 130.7V143.3M802.5 48.7V61.3M802.5 65.7V77.3M802.5 81.7V93.3M802.5 97.7V110.3M802.5 114.7V126.3M802.5 130.7V143.3M817.5 48.7V61.3M817.5 65.7V77.3M817.5 81.7V93.3M817.5 97.7V110.3M817.5 114.7V126.3M817.5 130.7V143.3M832.5 48.7V61.3M832.5 65.7V77.3M832.5 81.7V93.3M832.5 97.7V110.3M832.5 114.7V126.3M832.5 130.7V143.3M847.5 48.7V61.3M847.5 65.7V77.3M847.5 81.7V93.3M847.5 97.7V110.3M847.5 114.7V126.3M847.5 130.7V143.3M862.5 48.7V61.3M862.5 65.7V77.3M862.5 81.7V93.3M862.5 97.7V110.3M862.5 114.7V126.3M862.5 130.7V143.3M877.5 48.7V61.3M877.5 65.7V77.3M877.5 81.7V93.3M877.5 97.7V110.3M877.5 114.7V126.3M877.5 130.7V143.3" fill="none" stroke="#2a2a2a" stroke-width="1.3"/>
<path d="M714.70 147.70C714.95 146.27 715.17 141.62 716.20 139.10C717.23 136.58 718.37 134.52 720.90 132.60C723.43 130.68 727.65 129.18 731.40 127.60C735.15 126.02 739.90 124.60 743.40 123.10C746.90 121.60 749.57 120.07 752.40 118.60C755.23 117.13 757.07 115.52 760.40 114.30C763.73 113.08 768.18 111.43 772.40 111.30C776.62 111.17 781.82 112.27 785.70 113.50C789.58 114.73 792.03 117.30 795.70 118.70C799.37 120.10 803.25 121.50 807.70 121.90C812.15 122.30 817.73 121.43 822.40 121.10C827.07 120.77 831.62 119.67 835.70 119.90C839.78 120.13 843.98 120.97 846.90 122.50C849.82 124.03 851.68 126.50 853.20 129.10C854.72 131.70 855.37 135.00 856.00 138.10C856.63 141.20 856.83 146.10 857.00 147.70L857.00 149.70L714.70 149.70Z" fill="#fff" stroke="none"/>
<path d="M714.70 147.70C714.95 146.27 715.17 141.62 716.20 139.10C717.23 136.58 718.37 134.52 720.90 132.60C723.43 130.68 727.65 129.18 731.40 127.60C735.15 126.02 739.90 124.60 743.40 123.10C746.90 121.60 749.57 120.07 752.40 118.60C755.23 117.13 757.07 115.52 760.40 114.30C763.73 113.08 768.18 111.43 772.40 111.30C776.62 111.17 781.82 112.27 785.70 113.50C789.58 114.73 792.03 117.30 795.70 118.70C799.37 120.10 803.25 121.50 807.70 121.90C812.15 122.30 817.73 121.43 822.40 121.10C827.07 120.77 831.62 119.67 835.70 119.90C839.78 120.13 843.98 120.97 846.90 122.50C849.82 124.03 851.68 126.50 853.20 129.10C854.72 131.70 855.37 135.00 856.00 138.10C856.63 141.20 856.83 146.10 857.00 147.70" fill="none" stroke="#222" stroke-width="1.1"/>
<rect x="764.5" y="113.5" width="26" height="13" fill="#fff" stroke="#222" stroke-width="1.1"/>
</g>
<path d="M768.5 126.6V215.3H784" fill="none" stroke="#222" stroke-width="1.1"/>
<use href="#invT" x="807" y="161.3"/>
<text x="809.7" y="206.9" font-family='"Liberation Sans", sans-serif' font-size="12.6" font-weight="bold" font-style="normal" fill="#000" textLength="107.5" lengthAdjust="spacingAndGlyphs" >Grid Tie Inverter</text>
<text x="788.4" y="236.2" font-family='"Liberation Sans", sans-serif' font-size="9" font-weight="normal" font-style="normal" fill="#222" stroke="#222" stroke-width="0.2" textLength="13.4" lengthAdjust="spacingAndGlyphs" >DC</text>
<text x="931.6" y="236.2" font-family='"Liberation Sans", sans-serif' font-size="9" font-weight="normal" font-style="normal" fill="#222" stroke="#222" stroke-width="0.2" textLength="12.6" lengthAdjust="spacingAndGlyphs" >AC</text>
<text x="830.2" y="252.8" font-family='"Liberation Sans", sans-serif' font-size="13" font-weight="bold" font-style="normal" fill="#000" textLength="55.8" lengthAdjust="spacingAndGlyphs" >Inverter</text>
<text x="905.2" y="253.4" font-family='"Liberation Sans", sans-serif' font-size="9" font-weight="normal" font-style="normal" fill="#222" >2</text>
<path d="M268 213.6H294.4A10 10 0 0 1 304.4 223.6V331.8A20 20 0 0 0 324.4 351.8H438.3A19 19 0 0 1 457.3 370.8V406" fill="none" stroke="#0a0a0a" stroke-width="2.8" stroke-linecap="butt" stroke-linejoin="round"/>
<path d="M490 213.6H516.6A10 10 0 0 1 526.6 223.6V303A11 11 0 0 1 515.6 314H486.2A11 11 0 0 0 475.2 325V406" fill="none" stroke="#0a0a0a" stroke-width="2.8" stroke-linecap="butt" stroke-linejoin="round"/>
<path d="M712 213.6H742.6A10 10 0 0 1 752.6 223.6V316.9A16.5 16.5 0 0 1 736.1 333.4H511A17 17 0 0 0 494 350.4V406" fill="none" stroke="#0a0a0a" stroke-width="2.8" stroke-linecap="butt" stroke-linejoin="round"/>
<path d="M933 213.6H961A10 10 0 0 1 971 223.6V330.1A22 22 0 0 1 949 352.1H530A17 17 0 0 0 513 369.1V406" fill="none" stroke="#0a0a0a" stroke-width="2.8" stroke-linecap="butt" stroke-linejoin="round"/>
<g fill="#fff" stroke="#222" stroke-width="1.1">
<rect x="446.9" y="405.6" width="84.6" height="19.8" stroke-width="1.3"/>
<path d="M446.9 421.8H531.5" stroke-width="1"/>
</g>
<path d="M455.8 400.6H458.8L460.3 404L461.7 406.8H452.90000000000003L454.3 404Z" fill="#111"/>
<path d="M453.1 406.8H461.5L463.3 409.4V414L459.7 420.2H454.90000000000003L451.3 414V409.4Z" fill="#fff" stroke="#0a0a0a" stroke-width="1.5" stroke-linejoin="round"/>
<path d="M473.7 400.6H476.7L478.2 404L479.59999999999997 406.8H470.8L472.2 404Z" fill="#111"/>
<path d="M471.0 406.8H479.4L481.2 409.4V414L477.59999999999997 420.2H472.8L469.2 414V409.4Z" fill="#fff" stroke="#0a0a0a" stroke-width="1.5" stroke-linejoin="round"/>
<path d="M492.5 400.6H495.5L497 404L498.4 406.8H489.6L491 404Z" fill="#111"/>
<path d="M489.8 406.8H498.2L500 409.4V414L496.4 420.2H491.6L488 414V409.4Z" fill="#fff" stroke="#0a0a0a" stroke-width="1.5" stroke-linejoin="round"/>
<path d="M511.5 400.6H514.5L516 404L517.4 406.8H508.6L510 404Z" fill="#111"/>
<path d="M508.8 406.8H517.2L519 409.4V414L515.4 420.2H510.6L507 414V409.4Z" fill="#fff" stroke="#0a0a0a" stroke-width="1.5" stroke-linejoin="round"/>
<rect x="463.2" y="421.4" width="2.5" height="3.8" fill="#1a1a1a"/>
<rect x="481.6" y="421.4" width="2.5" height="3.8" fill="#1a1a1a"/>
<rect x="500.5" y="421.4" width="2.5" height="3.8" fill="#1a1a1a"/>
<rect x="519.0" y="421.4" width="2.5" height="3.8" fill="#1a1a1a"/>
<path d="M531.6 415.3H698" stroke="#0a0a0a" stroke-width="2.4" fill="none"/>
<path d="M696.4 409.4L709.2 415.3L696.4 421.2Z" fill="#0a0a0a"/>
<text x="732.4" y="423.6" font-family='"Liberation Sans", sans-serif' font-size="20" font-weight="bold" font-style="normal" fill="#000" textLength="118.3" lengthAdjust="spacingAndGlyphs" >Power Grid</text>
<text x="144" y="459" font-family='"Liberation Sans", sans-serif' font-size="12.2" font-weight="normal" font-style="normal" fill="#222" stroke="#222" stroke-width="0.2" textLength="68.3" lengthAdjust="spacing" >Solar Panel</text>
<g filter="url(#soft)">
<rect x="91.2" y="464.8" width="172.6" height="96.0" fill="#fff" stroke="#2a2a2a" stroke-width="2.4"/>
<rect x="92.80000000000001" y="466.4" width="169.39999999999998" height="92.80000000000001" fill="none" stroke="#aaa" stroke-width="0.8"/>
<path d="M95.6 467.5L105.4 467.5L107.2 469.3M107.2 479.7L105.4 481.5L95.6 481.5L93.8 479.7M93.8 469.3L95.6 467.5M109.6 467.5L119.4 467.5L121.2 469.3M121.2 479.7L119.4 481.5L109.6 481.5L107.8 479.7M107.8 469.3L109.6 467.5M123.6 467.5L133.4 467.5L135.2 469.3M135.2 479.7L133.4 481.5L123.6 481.5L121.8 479.7M121.8 469.3L123.6 467.5M137.6 467.5L147.4 467.5L149.2 469.3M149.2 479.7L147.4 481.5L137.6 481.5L135.8 479.7M135.8 469.3L137.6 467.5M151.6 467.5L161.4 467.5L163.2 469.3M163.2 479.7L161.4 481.5L151.6 481.5L149.8 479.7M149.8 469.3L151.6 467.5M165.6 467.5L175.4 467.5L177.2 469.3M177.2 479.7L175.4 481.5L165.6 481.5L163.8 479.7M163.8 469.3L165.6 467.5M179.6 467.5L189.4 467.5L191.2 469.3M191.2 479.7L189.4 481.5L179.6 481.5L177.8 479.7M177.8 469.3L179.6 467.5M193.6 467.5L203.4 467.5L205.2 469.3M205.2 479.7L203.4 481.5L193.6 481.5L191.8 479.7M191.8 469.3L193.6 467.5M207.6 467.5L217.4 467.5L219.2 469.3M219.2 479.7L217.4 481.5L207.6 481.5L205.8 479.7M205.8 469.3L207.6 467.5M221.6 467.5L231.4 467.5L233.2 469.3M233.2 479.7L231.4 481.5L221.6 481.5L219.8 479.7M219.8 469.3L221.6 467.5M235.6 467.5L245.4 467.5L247.2 469.3M247.2 479.7L245.4 481.5L235.6 481.5L233.8 479.7M233.8 469.3L235.6 467.5M249.6 467.5L258.4 467.5L260.2 469.3M260.2 479.7L258.4 481.5L249.6 481.5L247.8 479.7M247.8 469.3L249.6 467.5M95.6 483.5L105.4 483.5L107.2 485.3M107.2 494.7L105.4 496.5L95.6 496.5L93.8 494.7M93.8 485.3L95.6 483.5M109.6 483.5L119.4 483.5L121.2 485.3M121.2 494.7L119.4 496.5L109.6 496.5L107.8 494.7M107.8 485.3L109.6 483.5M123.6 483.5L133.4 483.5L135.2 485.3M135.2 494.7L133.4 496.5L123.6 496.5L121.8 494.7M121.8 485.3L123.6 483.5M137.6 483.5L147.4 483.5L149.2 485.3M149.2 494.7L147.4 496.5L137.6 496.5L135.8 494.7M135.8 485.3L137.6 483.5M151.6 483.5L161.4 483.5L163.2 485.3M163.2 494.7L161.4 496.5L151.6 496.5L149.8 494.7M149.8 485.3L151.6 483.5M165.6 483.5L175.4 483.5L177.2 485.3M177.2 494.7L175.4 496.5L165.6 496.5L163.8 494.7M163.8 485.3L165.6 483.5M179.6 483.5L189.4 483.5L191.2 485.3M191.2 494.7L189.4 496.5L179.6 496.5L177.8 494.7M177.8 485.3L179.6 483.5M193.6 483.5L203.4 483.5L205.2 485.3M205.2 494.7L203.4 496.5L193.6 496.5L191.8 494.7M191.8 485.3L193.6 483.5M207.6 483.5L217.4 483.5L219.2 485.3M219.2 494.7L217.4 496.5L207.6 496.5L205.8 494.7M205.8 485.3L207.6 483.5M221.6 483.5L231.4 483.5L233.2 485.3M233.2 494.7L231.4 496.5L221.6 496.5L219.8 494.7M219.8 485.3L221.6 483.5M235.6 483.5L245.4 483.5L247.2 485.3M247.2 494.7L245.4 496.5L235.6 496.5L233.8 494.7M233.8 485.3L235.6 483.5M249.6 483.5L258.4 483.5L260.2 485.3M260.2 494.7L258.4 496.5L249.6 496.5L247.8 494.7M247.8 485.3L249.6 483.5M95.6 498.5L105.4 498.5L107.2 500.3M107.2 509.7L105.4 511.5L95.6 511.5L93.8 509.7M93.8 500.3L95.6 498.5M109.6 498.5L119.4 498.5L121.2 500.3M121.2 509.7L119.4 511.5L109.6 511.5L107.8 509.7M107.8 500.3L109.6 498.5M123.6 498.5L133.4 498.5L135.2 500.3M135.2 509.7L133.4 511.5L123.6 511.5L121.8 509.7M121.8 500.3L123.6 498.5M137.6 498.5L147.4 498.5L149.2 500.3M149.2 509.7L147.4 511.5L137.6 511.5L135.8 509.7M135.8 500.3L137.6 498.5M151.6 498.5L161.4 498.5L163.2 500.3M163.2 509.7L161.4 511.5L151.6 511.5L149.8 509.7M149.8 500.3L151.6 498.5M165.6 498.5L175.4 498.5L177.2 500.3M177.2 509.7L175.4 511.5L165.6 511.5L163.8 509.7M163.8 500.3L165.6 498.5M179.6 498.5L189.4 498.5L191.2 500.3M191.2 509.7L189.4 511.5L179.6 511.5L177.8 509.7M177.8 500.3L179.6 498.5M193.6 498.5L203.4 498.5L205.2 500.3M205.2 509.7L203.4 511.5L193.6 511.5L191.8 509.7M191.8 500.3L193.6 498.5M207.6 498.5L217.4 498.5L219.2 500.3M219.2 509.7L217.4 511.5L207.6 511.5L205.8 509.7M205.8 500.3L207.6 498.5M221.6 498.5L231.4 498.5L233.2 500.3M233.2 509.7L231.4 511.5L221.6 511.5L219.8 509.7M219.8 500.3L221.6 498.5M235.6 498.5L245.4 498.5L247.2 500.3M247.2 509.7L245.4 511.5L235.6 511.5L233.8 509.7M233.8 500.3L235.6 498.5M249.6 498.5L258.4 498.5L260.2 500.3M260.2 509.7L258.4 511.5L249.6 511.5L247.8 509.7M247.8 500.3L249.6 498.5M95.6 513.5L105.4 513.5L107.2 515.3M107.2 524.7L105.4 526.5L95.6 526.5L93.8 524.7M93.8 515.3L95.6 513.5M109.6 513.5L119.4 513.5L121.2 515.3M121.2 524.7L119.4 526.5L109.6 526.5L107.8 524.7M107.8 515.3L109.6 513.5M123.6 513.5L133.4 513.5L135.2 515.3M135.2 524.7L133.4 526.5L123.6 526.5L121.8 524.7M121.8 515.3L123.6 513.5M137.6 513.5L147.4 513.5L149.2 515.3M149.2 524.7L147.4 526.5L137.6 526.5L135.8 524.7M135.8 515.3L137.6 513.5M151.6 513.5L161.4 513.5L163.2 515.3M163.2 524.7L161.4 526.5L151.6 526.5L149.8 524.7M149.8 515.3L151.6 513.5M165.6 513.5L175.4 513.5L177.2 515.3M177.2 524.7L175.4 526.5L165.6 526.5L163.8 524.7M163.8 515.3L165.6 513.5M179.6 513.5L189.4 513.5L191.2 515.3M191.2 524.7L189.4 526.5L179.6 526.5L177.8 524.7M177.8 515.3L179.6 513.5M193.6 513.5L203.4 513.5L205.2 515.3M205.2 524.7L203.4 526.5L193.6 526.5L191.8 524.7M191.8 515.3L193.6 513.5M207.6 513.5L217.4 513.5L219.2 515.3M219.2 524.7L217.4 526.5L207.6 526.5L205.8 524.7M205.8 515.3L207.6 513.5M221.6 513.5L231.4 513.5L233.2 515.3M233.2 524.7L231.4 526.5L221.6 526.5L219.8 524.7M219.8 515.3L221.6 513.5M235.6 513.5L245.4 513.5L247.2 515.3M247.2 524.7L245.4 526.5L235.6 526.5L233.8 524.7M233.8 515.3L235.6 513.5M249.6 513.5L258.4 513.5L260.2 515.3M260.2 524.7L258.4 526.5L249.6 526.5L247.8 524.7M247.8 515.3L249.6 513.5M95.6 528.5L105.4 528.5L107.2 530.3M107.2 539.7L105.4 541.5L95.6 541.5L93.8 539.7M93.8 530.3L95.6 528.5M109.6 528.5L119.4 528.5L121.2 530.3M121.2 539.7L119.4 541.5L109.6 541.5L107.8 539.7M107.8 530.3L109.6 528.5M123.6 528.5L133.4 528.5L135.2 530.3M135.2 539.7L133.4 541.5L123.6 541.5L121.8 539.7M121.8 530.3L123.6 528.5M137.6 528.5L147.4 528.5L149.2 530.3M149.2 539.7L147.4 541.5L137.6 541.5L135.8 539.7M135.8 530.3L137.6 528.5M151.6 528.5L161.4 528.5L163.2 530.3M163.2 539.7L161.4 541.5L151.6 541.5L149.8 539.7M149.8 530.3L151.6 528.5M165.6 528.5L175.4 528.5L177.2 530.3M177.2 539.7L175.4 541.5L165.6 541.5L163.8 539.7M163.8 530.3L165.6 528.5M179.6 528.5L189.4 528.5L191.2 530.3M191.2 539.7L189.4 541.5L179.6 541.5L177.8 539.7M177.8 530.3L179.6 528.5M193.6 528.5L203.4 528.5L205.2 530.3M205.2 539.7L203.4 541.5L193.6 541.5L191.8 539.7M191.8 530.3L193.6 528.5M207.6 528.5L217.4 528.5L219.2 530.3M219.2 539.7L217.4 541.5L207.6 541.5L205.8 539.7M205.8 530.3L207.6 528.5M221.6 528.5L231.4 528.5L233.2 530.3M233.2 539.7L231.4 541.5L221.6 541.5L219.8 539.7M219.8 530.3L221.6 528.5M235.6 528.5L245.4 528.5L247.2 530.3M247.2 539.7L245.4 541.5L235.6 541.5L233.8 539.7M233.8 530.3L235.6 528.5M249.6 528.5L258.4 528.5L260.2 530.3M260.2 539.7L258.4 541.5L249.6 541.5L247.8 539.7M247.8 530.3L249.6 528.5M95.6 543.5L105.4 543.5L107.2 545.3M107.2 555.7L105.4 557.5L95.6 557.5L93.8 555.7M93.8 545.3L95.6 543.5M109.6 543.5L119.4 543.5L121.2 545.3M121.2 555.7L119.4 557.5L109.6 557.5L107.8 555.7M107.8 545.3L109.6 543.5M123.6 543.5L133.4 543.5L135.2 545.3M135.2 555.7L133.4 557.5L123.6 557.5L121.8 555.7M121.8 545.3L123.6 543.5M137.6 543.5L147.4 543.5L149.2 545.3M149.2 555.7L147.4 557.5L137.6 557.5L135.8 555.7M135.8 545.3L137.6 543.5M151.6 543.5L161.4 543.5L163.2 545.3M163.2 555.7L161.4 557.5L151.6 557.5L149.8 555.7M149.8 545.3L151.6 543.5M165.6 543.5L175.4 543.5L177.2 545.3M177.2 555.7L175.4 557.5L165.6 557.5L163.8 555.7M163.8 545.3L165.6 543.5M179.6 543.5L189.4 543.5L191.2 545.3M191.2 555.7L189.4 557.5L179.6 557.5L177.8 555.7M177.8 545.3L179.6 543.5M193.6 543.5L203.4 543.5L205.2 545.3M205.2 555.7L203.4 557.5L193.6 557.5L191.8 555.7M191.8 545.3L193.6 543.5M207.6 543.5L217.4 543.5L219.2 545.3M219.2 555.7L217.4 557.5L207.6 557.5L205.8 555.7M205.8 545.3L207.6 543.5M221.6 543.5L231.4 543.5L233.2 545.3M233.2 555.7L231.4 557.5L221.6 557.5L219.8 555.7M219.8 545.3L221.6 543.5M235.6 543.5L245.4 543.5L247.2 545.3M247.2 555.7L245.4 557.5L235.6 557.5L233.8 555.7M233.8 545.3L235.6 543.5M249.6 543.5L258.4 543.5L260.2 545.3M260.2 555.7L258.4 557.5L249.6 557.5L247.8 555.7M247.8 545.3L249.6 543.5" fill="none" stroke="#484848" stroke-width="0.85"/>
<path d="M93.8 470.5H107.2M93.8 477.5H107.2M107.8 470.5H121.2M107.8 477.5H121.2M121.8 470.5H135.2M121.8 477.5H135.2M135.8 470.5H149.2M135.8 477.5H149.2M149.8 470.5H163.2M149.8 477.5H163.2M163.8 470.5H177.2M163.8 477.5H177.2M177.8 470.5H191.2M177.8 477.5H191.2M191.8 470.5H205.2M191.8 477.5H205.2M205.8 470.5H219.2M205.8 477.5H219.2M219.8 470.5H233.2M219.8 477.5H233.2M233.8 470.5H247.2M233.8 477.5H247.2M247.8 470.5H260.2M247.8 477.5H260.2M93.8 486.5H107.2M93.8 493.5H107.2M107.8 486.5H121.2M107.8 493.5H121.2M121.8 486.5H135.2M121.8 493.5H135.2M135.8 486.5H149.2M135.8 493.5H149.2M149.8 486.5H163.2M149.8 493.5H163.2M163.8 486.5H177.2M163.8 493.5H177.2M177.8 486.5H191.2M177.8 493.5H191.2M191.8 486.5H205.2M191.8 493.5H205.2M205.8 486.5H219.2M205.8 493.5H219.2M219.8 486.5H233.2M219.8 493.5H233.2M233.8 486.5H247.2M233.8 493.5H247.2M247.8 486.5H260.2M247.8 493.5H260.2M93.8 501.5H107.2M93.8 508.5H107.2M107.8 501.5H121.2M107.8 508.5H121.2M121.8 501.5H135.2M121.8 508.5H135.2M135.8 501.5H149.2M135.8 508.5H149.2M149.8 501.5H163.2M149.8 508.5H163.2M163.8 501.5H177.2M163.8 508.5H177.2M177.8 501.5H191.2M177.8 508.5H191.2M191.8 501.5H205.2M191.8 508.5H205.2M205.8 501.5H219.2M205.8 508.5H219.2M219.8 501.5H233.2M219.8 508.5H233.2M233.8 501.5H247.2M233.8 508.5H247.2M247.8 501.5H260.2M247.8 508.5H260.2M93.8 516.5H107.2M93.8 523.5H107.2M107.8 516.5H121.2M107.8 523.5H121.2M121.8 516.5H135.2M121.8 523.5H135.2M135.8 516.5H149.2M135.8 523.5H149.2M149.8 516.5H163.2M149.8 523.5H163.2M163.8 516.5H177.2M163.8 523.5H177.2M177.8 516.5H191.2M177.8 523.5H191.2M191.8 516.5H205.2M191.8 523.5H205.2M205.8 516.5H219.2M205.8 523.5H219.2M219.8 516.5H233.2M219.8 523.5H233.2M233.8 516.5H247.2M233.8 523.5H247.2M247.8 516.5H260.2M247.8 523.5H260.2M93.8 531.5H107.2M93.8 538.5H107.2M107.8 531.5H121.2M107.8 538.5H121.2M121.8 531.5H135.2M121.8 538.5H135.2M135.8 531.5H149.2M135.8 538.5H149.2M149.8 531.5H163.2M149.8 538.5H163.2M163.8 531.5H177.2M163.8 538.5H177.2M177.8 531.5H191.2M177.8 538.5H191.2M191.8 531.5H205.2M191.8 538.5H205.2M205.8 531.5H219.2M205.8 538.5H219.2M219.8 531.5H233.2M219.8 538.5H233.2M233.8 531.5H247.2M233.8 538.5H247.2M247.8 531.5H260.2M247.8 538.5H260.2M93.8 546.5H107.2M93.8 553.5H107.2M107.8 546.5H121.2M107.8 553.5H121.2M121.8 546.5H135.2M121.8 553.5H135.2M135.8 546.5H149.2M135.8 553.5H149.2M149.8 546.5H163.2M149.8 553.5H163.2M163.8 546.5H177.2M163.8 553.5H177.2M177.8 546.5H191.2M177.8 553.5H191.2M191.8 546.5H205.2M191.8 553.5H205.2M205.8 546.5H219.2M205.8 553.5H219.2M219.8 546.5H233.2M219.8 553.5H233.2M233.8 546.5H247.2M233.8 553.5H247.2M247.8 546.5H260.2M247.8 553.5H260.2" fill="none" stroke="#333" stroke-width="1.3"/>
<path d="M93.5 468.7V480.3M93.5 484.7V495.3M93.5 499.7V510.3M93.5 514.7V525.3M93.5 529.7V540.3M93.5 544.7V556.3M107.5 468.7V480.3M107.5 484.7V495.3M107.5 499.7V510.3M107.5 514.7V525.3M107.5 529.7V540.3M107.5 544.7V556.3M121.5 468.7V480.3M121.5 484.7V495.3M121.5 499.7V510.3M121.5 514.7V525.3M121.5 529.7V540.3M121.5 544.7V556.3M135.5 468.7V480.3M135.5 484.7V495.3M135.5 499.7V510.3M135.5 514.7V525.3M135.5 529.7V540.3M135.5 544.7V556.3M149.5 468.7V480.3M149.5 484.7V495.3M149.5 499.7V510.3M149.5 514.7V525.3M149.5 529.7V540.3M149.5 544.7V556.3M163.5 468.7V480.3M163.5 484.7V495.3M163.5 499.7V510.3M163.5 514.7V525.3M163.5 529.7V540.3M163.5 544.7V556.3M177.5 468.7V480.3M177.5 484.7V495.3M177.5 499.7V510.3M177.5 514.7V525.3M177.5 529.7V540.3M177.5 544.7V556.3M191.5 468.7V480.3M191.5 484.7V495.3M191.5 499.7V510.3M191.5 514.7V525.3M191.5 529.7V540.3M191.5 544.7V556.3M205.5 468.7V480.3M205.5 484.7V495.3M205.5 499.7V510.3M205.5 514.7V525.3M205.5 529.7V540.3M205.5 544.7V556.3M219.5 468.7V480.3M219.5 484.7V495.3M219.5 499.7V510.3M219.5 514.7V525.3M219.5 529.7V540.3M219.5 544.7V556.3M233.5 468.7V480.3M233.5 484.7V495.3M233.5 499.7V510.3M233.5 514.7V525.3M233.5 529.7V540.3M233.5 544.7V556.3M247.5 468.7V480.3M247.5 484.7V495.3M247.5 499.7V510.3M247.5 514.7V525.3M247.5 529.7V540.3M247.5 544.7V556.3M260.5 468.7V480.3M260.5 484.7V495.3M260.5 499.7V510.3M260.5 514.7V525.3M260.5 529.7V540.3M260.5 544.7V556.3" fill="none" stroke="#111" stroke-width="1.6"/>
<path d="M109.00 562.00C109.23 560.65 109.43 556.28 110.40 553.91C111.37 551.54 112.43 549.60 114.80 547.80C117.17 545.99 121.12 544.58 124.63 543.09C128.14 541.60 132.58 540.27 135.86 538.86C139.13 537.45 141.63 536.00 144.28 534.62C146.93 533.25 148.65 531.72 151.76 530.58C154.88 529.44 159.05 527.88 162.99 527.76C166.94 527.63 171.81 528.67 175.44 529.83C179.08 530.99 181.37 533.40 184.80 534.72C188.23 536.04 191.86 537.35 196.03 537.73C200.19 538.11 205.42 537.29 209.79 536.98C214.15 536.66 218.41 535.63 222.23 535.85C226.05 536.07 229.98 536.85 232.71 538.29C235.44 539.74 237.19 542.06 238.61 544.50C240.03 546.95 240.64 550.05 241.23 552.97C241.82 555.89 242.01 560.49 242.17 562.00L242.17 564.00L109.00 564.00Z" fill="#fff" stroke="none"/>
<path d="M109.00 562.00C109.23 560.65 109.43 556.28 110.40 553.91C111.37 551.54 112.43 549.60 114.80 547.80C117.17 545.99 121.12 544.58 124.63 543.09C128.14 541.60 132.58 540.27 135.86 538.86C139.13 537.45 141.63 536.00 144.28 534.62C146.93 533.25 148.65 531.72 151.76 530.58C154.88 529.44 159.05 527.88 162.99 527.76C166.94 527.63 171.81 528.67 175.44 529.83C179.08 530.99 181.37 533.40 184.80 534.72C188.23 536.04 191.86 537.35 196.03 537.73C200.19 538.11 205.42 537.29 209.79 536.98C214.15 536.66 218.41 535.63 222.23 535.85C226.05 536.07 229.98 536.85 232.71 538.29C235.44 539.74 237.19 542.06 238.61 544.50C240.03 546.95 240.64 550.05 241.23 552.97C241.82 555.89 242.01 560.49 242.17 562.00" fill="none" stroke="#222" stroke-width="1.1"/>
<rect x="155.5" y="529.5" width="24" height="12" fill="#fff" stroke="#222" stroke-width="1.1"/>
</g>
<path d="M159.5 541.1V625.1H174.9" fill="none" stroke="#222" stroke-width="1.2"/>
<use href="#invB" x="194.9" y="574.5"/>
<text x="203.1" y="614.6" font-family='"Liberation Sans", sans-serif' font-size="10.6" font-weight="bold" font-style="normal" fill="#111" textLength="21" lengthAdjust="spacingAndGlyphs" >Grid</text>
<text x="231.10000000000002" y="614.6" font-family='"Liberation Sans", sans-serif' font-size="10.6" font-weight="bold" font-style="normal" fill="#111" textLength="15" lengthAdjust="spacingAndGlyphs" >Tie</text>
<text x="250.10000000000002" y="614.6" font-family='"Liberation Sans", sans-serif' font-size="10.6" font-weight="bold" font-style="normal" fill="#111" textLength="38.2" lengthAdjust="spacingAndGlyphs" >Inverter</text>
<text x="177.9" y="645.3" font-family='"Liberation Sans", sans-serif' font-size="10" font-weight="normal" font-style="normal" fill="#222" stroke="#222" stroke-width="0.25" textLength="12.2" lengthAdjust="spacingAndGlyphs" >DC</text>
<text x="312.7" y="645.2" font-family='"Liberation Sans", sans-serif' font-size="9.6" font-weight="normal" font-style="normal" fill="#222" stroke="#222" stroke-width="0.25" textLength="11.8" lengthAdjust="spacingAndGlyphs" >AC</text>
<text x="216.3" y="659.6" font-family='"Liberation Sans", sans-serif' font-size="11" font-weight="normal" font-style="normal" fill="#222" stroke="#222" stroke-width="0.2" textLength="50" lengthAdjust="spacing" >Inverter</text>
<text x="287.3" y="660" font-family='"Liberation Sans", sans-serif' font-size="10" font-weight="normal" font-style="normal" fill="#222" >1</text>
<path d="M305.5 624H312.1V675" fill="none" stroke="#222" stroke-width="1.3"/>
<path d="M307.6 673.6H316.6L312.1 679.2Z" fill="#111"/>
<text x="351.5" y="459" font-family='"Liberation Sans", sans-serif' font-size="12.2" font-weight="normal" font-style="normal" fill="#222" stroke="#222" stroke-width="0.2" textLength="68.3" lengthAdjust="spacing" >Solar Panel</text>
<g filter="url(#soft)">
<rect x="299.7" y="464.8" width="172.6" height="96.0" fill="#fff" stroke="#2a2a2a" stroke-width="2.4"/>
<rect x="301.29999999999995" y="466.4" width="169.39999999999998" height="92.80000000000001" fill="none" stroke="#aaa" stroke-width="0.8"/>
<path d="M304.6 467.5L314.4 467.5L316.2 469.3M316.2 479.7L314.4 481.5L304.6 481.5L302.8 479.7M302.8 469.3L304.6 467.5M318.6 467.5L328.4 467.5L330.2 469.3M330.2 479.7L328.4 481.5L318.6 481.5L316.8 479.7M316.8 469.3L318.6 467.5M332.6 467.5L341.4 467.5L343.2 469.3M343.2 479.7L341.4 481.5L332.6 481.5L330.8 479.7M330.8 469.3L332.6 467.5M345.6 467.5L355.4 467.5L357.2 469.3M357.2 479.7L355.4 481.5L345.6 481.5L343.8 479.7M343.8 469.3L345.6 467.5M359.6 467.5L369.4 467.5L371.2 469.3M371.2 479.7L369.4 481.5L359.6 481.5L357.8 479.7M357.8 469.3L359.6 467.5M373.6 467.5L383.4 467.5L385.2 469.3M385.2 479.7L383.4 481.5L373.6 481.5L371.8 479.7M371.8 469.3L373.6 467.5M387.6 467.5L397.4 467.5L399.2 469.3M399.2 479.7L397.4 481.5L387.6 481.5L385.8 479.7M385.8 469.3L387.6 467.5M401.6 467.5L411.4 467.5L413.2 469.3M413.2 479.7L411.4 481.5L401.6 481.5L399.8 479.7M399.8 469.3L401.6 467.5M415.6 467.5L425.4 467.5L427.2 469.3M427.2 479.7L425.4 481.5L415.6 481.5L413.8 479.7M413.8 469.3L415.6 467.5M429.6 467.5L439.4 467.5L441.2 469.3M441.2 479.7L439.4 481.5L429.6 481.5L427.8 479.7M427.8 469.3L429.6 467.5M443.6 467.5L453.4 467.5L455.2 469.3M455.2 479.7L453.4 481.5L443.6 481.5L441.8 479.7M441.8 469.3L443.6 467.5M457.6 467.5L467.4 467.5L469.2 469.3M469.2 479.7L467.4 481.5L457.6 481.5L455.8 479.7M455.8 469.3L457.6 467.5M304.6 483.5L314.4 483.5L316.2 485.3M316.2 494.7L314.4 496.5L304.6 496.5L302.8 494.7M302.8 485.3L304.6 483.5M318.6 483.5L328.4 483.5L330.2 485.3M330.2 494.7L328.4 496.5L318.6 496.5L316.8 494.7M316.8 485.3L318.6 483.5M332.6 483.5L341.4 483.5L343.2 485.3M343.2 494.7L341.4 496.5L332.6 496.5L330.8 494.7M330.8 485.3L332.6 483.5M345.6 483.5L355.4 483.5L357.2 485.3M357.2 494.7L355.4 496.5L345.6 496.5L343.8 494.7M343.8 485.3L345.6 483.5M359.6 483.5L369.4 483.5L371.2 485.3M371.2 494.7L369.4 496.5L359.6 496.5L357.8 494.7M357.8 485.3L359.6 483.5M373.6 483.5L383.4 483.5L385.2 485.3M385.2 494.7L383.4 496.5L373.6 496.5L371.8 494.7M371.8 485.3L373.6 483.5M387.6 483.5L397.4 483.5L399.2 485.3M399.2 494.7L397.4 496.5L387.6 496.5L385.8 494.7M385.8 485.3L387.6 483.5M401.6 483.5L411.4 483.5L413.2 485.3M413.2 494.7L411.4 496.5L401.6 496.5L399.8 494.7M399.8 485.3L401.6 483.5M415.6 483.5L425.4 483.5L427.2 485.3M427.2 494.7L425.4 496.5L415.6 496.5L413.8 494.7M413.8 485.3L415.6 483.5M429.6 483.5L439.4 483.5L441.2 485.3M441.2 494.7L439.4 496.5L429.6 496.5L427.8 494.7M427.8 485.3L429.6 483.5M443.6 483.5L453.4 483.5L455.2 485.3M455.2 494.7L453.4 496.5L443.6 496.5L441.8 494.7M441.8 485.3L443.6 483.5M457.6 483.5L467.4 483.5L469.2 485.3M469.2 494.7L467.4 496.5L457.6 496.5L455.8 494.7M455.8 485.3L457.6 483.5M304.6 498.5L314.4 498.5L316.2 500.3M316.2 509.7L314.4 511.5L304.6 511.5L302.8 509.7M302.8 500.3L304.6 498.5M318.6 498.5L328.4 498.5L330.2 500.3M330.2 509.7L328.4 511.5L318.6 511.5L316.8 509.7M316.8 500.3L318.6 498.5M332.6 498.5L341.4 498.5L343.2 500.3M343.2 509.7L341.4 511.5L332.6 511.5L330.8 509.7M330.8 500.3L332.6 498.5M345.6 498.5L355.4 498.5L357.2 500.3M357.2 509.7L355.4 511.5L345.6 511.5L343.8 509.7M343.8 500.3L345.6 498.5M359.6 498.5L369.4 498.5L371.2 500.3M371.2 509.7L369.4 511.5L359.6 511.5L357.8 509.7M357.8 500.3L359.6 498.5M373.6 498.5L383.4 498.5L385.2 500.3M385.2 509.7L383.4 511.5L373.6 511.5L371.8 509.7M371.8 500.3L373.6 498.5M387.6 498.5L397.4 498.5L399.2 500.3M399.2 509.7L397.4 511.5L387.6 511.5L385.8 509.7M385.8 500.3L387.6 498.5M401.6 498.5L411.4 498.5L413.2 500.3M413.2 509.7L411.4 511.5L401.6 511.5L399.8 509.7M399.8 500.3L401.6 498.5M415.6 498.5L425.4 498.5L427.2 500.3M427.2 509.7L425.4 511.5L415.6 511.5L413.8 509.7M413.8 500.3L415.6 498.5M429.6 498.5L439.4 498.5L441.2 500.3M441.2 509.7L439.4 511.5L429.6 511.5L427.8 509.7M427.8 500.3L429.6 498.5M443.6 498.5L453.4 498.5L455.2 500.3M455.2 509.7L453.4 511.5L443.6 511.5L441.8 509.7M441.8 500.3L443.6 498.5M457.6 498.5L467.4 498.5L469.2 500.3M469.2 509.7L467.4 511.5L457.6 511.5L455.8 509.7M455.8 500.3L457.6 498.5M304.6 513.5L314.4 513.5L316.2 515.3M316.2 524.7L314.4 526.5L304.6 526.5L302.8 524.7M302.8 515.3L304.6 513.5M318.6 513.5L328.4 513.5L330.2 515.3M330.2 524.7L328.4 526.5L318.6 526.5L316.8 524.7M316.8 515.3L318.6 513.5M332.6 513.5L341.4 513.5L343.2 515.3M343.2 524.7L341.4 526.5L332.6 526.5L330.8 524.7M330.8 515.3L332.6 513.5M345.6 513.5L355.4 513.5L357.2 515.3M357.2 524.7L355.4 526.5L345.6 526.5L343.8 524.7M343.8 515.3L345.6 513.5M359.6 513.5L369.4 513.5L371.2 515.3M371.2 524.7L369.4 526.5L359.6 526.5L357.8 524.7M357.8 515.3L359.6 513.5M373.6 513.5L383.4 513.5L385.2 515.3M385.2 524.7L383.4 526.5L373.6 526.5L371.8 524.7M371.8 515.3L373.6 513.5M387.6 513.5L397.4 513.5L399.2 515.3M399.2 524.7L397.4 526.5L387.6 526.5L385.8 524.7M385.8 515.3L387.6 513.5M401.6 513.5L411.4 513.5L413.2 515.3M413.2 524.7L411.4 526.5L401.6 526.5L399.8 524.7M399.8 515.3L401.6 513.5M415.6 513.5L425.4 513.5L427.2 515.3M427.2 524.7L425.4 526.5L415.6 526.5L413.8 524.7M413.8 515.3L415.6 513.5M429.6 513.5L439.4 513.5L441.2 515.3M441.2 524.7L439.4 526.5L429.6 526.5L427.8 524.7M427.8 515.3L429.6 513.5M443.6 513.5L453.4 513.5L455.2 515.3M455.2 524.7L453.4 526.5L443.6 526.5L441.8 524.7M441.8 515.3L443.6 513.5M457.6 513.5L467.4 513.5L469.2 515.3M469.2 524.7L467.4 526.5L457.6 526.5L455.8 524.7M455.8 515.3L457.6 513.5M304.6 528.5L314.4 528.5L316.2 530.3M316.2 539.7L314.4 541.5L304.6 541.5L302.8 539.7M302.8 530.3L304.6 528.5M318.6 528.5L328.4 528.5L330.2 530.3M330.2 539.7L328.4 541.5L318.6 541.5L316.8 539.7M316.8 530.3L318.6 528.5M332.6 528.5L341.4 528.5L343.2 530.3M343.2 539.7L341.4 541.5L332.6 541.5L330.8 539.7M330.8 530.3L332.6 528.5M345.6 528.5L355.4 528.5L357.2 530.3M357.2 539.7L355.4 541.5L345.6 541.5L343.8 539.7M343.8 530.3L345.6 528.5M359.6 528.5L369.4 528.5L371.2 530.3M371.2 539.7L369.4 541.5L359.6 541.5L357.8 539.7M357.8 530.3L359.6 528.5M373.6 528.5L383.4 528.5L385.2 530.3M385.2 539.7L383.4 541.5L373.6 541.5L371.8 539.7M371.8 530.3L373.6 528.5M387.6 528.5L397.4 528.5L399.2 530.3M399.2 539.7L397.4 541.5L387.6 541.5L385.8 539.7M385.8 530.3L387.6 528.5M401.6 528.5L411.4 528.5L413.2 530.3M413.2 539.7L411.4 541.5L401.6 541.5L399.8 539.7M399.8 530.3L401.6 528.5M415.6 528.5L425.4 528.5L427.2 530.3M427.2 539.7L425.4 541.5L415.6 541.5L413.8 539.7M413.8 530.3L415.6 528.5M429.6 528.5L439.4 528.5L441.2 530.3M441.2 539.7L439.4 541.5L429.6 541.5L427.8 539.7M427.8 530.3L429.6 528.5M443.6 528.5L453.4 528.5L455.2 530.3M455.2 539.7L453.4 541.5L443.6 541.5L441.8 539.7M441.8 530.3L443.6 528.5M457.6 528.5L467.4 528.5L469.2 530.3M469.2 539.7L467.4 541.5L457.6 541.5L455.8 539.7M455.8 530.3L457.6 528.5M304.6 543.5L314.4 543.5L316.2 545.3M316.2 555.7L314.4 557.5L304.6 557.5L302.8 555.7M302.8 545.3L304.6 543.5M318.6 543.5L328.4 543.5L330.2 545.3M330.2 555.7L328.4 557.5L318.6 557.5L316.8 555.7M316.8 545.3L318.6 543.5M332.6 543.5L341.4 543.5L343.2 545.3M343.2 555.7L341.4 557.5L332.6 557.5L330.8 555.7M330.8 545.3L332.6 543.5M345.6 543.5L355.4 543.5L357.2 545.3M357.2 555.7L355.4 557.5L345.6 557.5L343.8 555.7M343.8 545.3L345.6 543.5M359.6 543.5L369.4 543.5L371.2 545.3M371.2 555.7L369.4 557.5L359.6 557.5L357.8 555.7M357.8 545.3L359.6 543.5M373.6 543.5L383.4 543.5L385.2 545.3M385.2 555.7L383.4 557.5L373.6 557.5L371.8 555.7M371.8 545.3L373.6 543.5M387.6 543.5L397.4 543.5L399.2 545.3M399.2 555.7L397.4 557.5L387.6 557.5L385.8 555.7M385.8 545.3L387.6 543.5M401.6 543.5L411.4 543.5L413.2 545.3M413.2 555.7L411.4 557.5L401.6 557.5L399.8 555.7M399.8 545.3L401.6 543.5M415.6 543.5L425.4 543.5L427.2 545.3M427.2 555.7L425.4 557.5L415.6 557.5L413.8 555.7M413.8 545.3L415.6 543.5M429.6 543.5L439.4 543.5L441.2 545.3M441.2 555.7L439.4 557.5L429.6 557.5L427.8 555.7M427.8 545.3L429.6 543.5M443.6 543.5L453.4 543.5L455.2 545.3M455.2 555.7L453.4 557.5L443.6 557.5L441.8 555.7M441.8 545.3L443.6 543.5M457.6 543.5L467.4 543.5L469.2 545.3M469.2 555.7L467.4 557.5L457.6 557.5L455.8 555.7M455.8 545.3L457.6 543.5" fill="none" stroke="#484848" stroke-width="0.85"/>
<path d="M302.8 470.5H316.2M302.8 477.5H316.2M316.8 470.5H330.2M316.8 477.5H330.2M330.8 470.5H343.2M330.8 477.5H343.2M343.8 470.5H357.2M343.8 477.5H357.2M357.8 470.5H371.2M357.8 477.5H371.2M371.8 470.5H385.2M371.8 477.5H385.2M385.8 470.5H399.2M385.8 477.5H399.2M399.8 470.5H413.2M399.8 477.5H413.2M413.8 470.5H427.2M413.8 477.5H427.2M427.8 470.5H441.2M427.8 477.5H441.2M441.8 470.5H455.2M441.8 477.5H455.2M455.8 470.5H469.2M455.8 477.5H469.2M302.8 486.5H316.2M302.8 493.5H316.2M316.8 486.5H330.2M316.8 493.5H330.2M330.8 486.5H343.2M330.8 493.5H343.2M343.8 486.5H357.2M343.8 493.5H357.2M357.8 486.5H371.2M357.8 493.5H371.2M371.8 486.5H385.2M371.8 493.5H385.2M385.8 486.5H399.2M385.8 493.5H399.2M399.8 486.5H413.2M399.8 493.5H413.2M413.8 486.5H427.2M413.8 493.5H427.2M427.8 486.5H441.2M427.8 493.5H441.2M441.8 486.5H455.2M441.8 493.5H455.2M455.8 486.5H469.2M455.8 493.5H469.2M302.8 501.5H316.2M302.8 508.5H316.2M316.8 501.5H330.2M316.8 508.5H330.2M330.8 501.5H343.2M330.8 508.5H343.2M343.8 501.5H357.2M343.8 508.5H357.2M357.8 501.5H371.2M357.8 508.5H371.2M371.8 501.5H385.2M371.8 508.5H385.2M385.8 501.5H399.2M385.8 508.5H399.2M399.8 501.5H413.2M399.8 508.5H413.2M413.8 501.5H427.2M413.8 508.5H427.2M427.8 501.5H441.2M427.8 508.5H441.2M441.8 501.5H455.2M441.8 508.5H455.2M455.8 501.5H469.2M455.8 508.5H469.2M302.8 516.5H316.2M302.8 523.5H316.2M316.8 516.5H330.2M316.8 523.5H330.2M330.8 516.5H343.2M330.8 523.5H343.2M343.8 516.5H357.2M343.8 523.5H357.2M357.8 516.5H371.2M357.8 523.5H371.2M371.8 516.5H385.2M371.8 523.5H385.2M385.8 516.5H399.2M385.8 523.5H399.2M399.8 516.5H413.2M399.8 523.5H413.2M413.8 516.5H427.2M413.8 523.5H427.2M427.8 516.5H441.2M427.8 523.5H441.2M441.8 516.5H455.2M441.8 523.5H455.2M455.8 516.5H469.2M455.8 523.5H469.2M302.8 531.5H316.2M302.8 538.5H316.2M316.8 531.5H330.2M316.8 538.5H330.2M330.8 531.5H343.2M330.8 538.5H343.2M343.8 531.5H357.2M343.8 538.5H357.2M357.8 531.5H371.2M357.8 538.5H371.2M371.8 531.5H385.2M371.8 538.5H385.2M385.8 531.5H399.2M385.8 538.5H399.2M399.8 531.5H413.2M399.8 538.5H413.2M413.8 531.5H427.2M413.8 538.5H427.2M427.8 531.5H441.2M427.8 538.5H441.2M441.8 531.5H455.2M441.8 538.5H455.2M455.8 531.5H469.2M455.8 538.5H469.2M302.8 546.5H316.2M302.8 553.5H316.2M316.8 546.5H330.2M316.8 553.5H330.2M330.8 546.5H343.2M330.8 553.5H343.2M343.8 546.5H357.2M343.8 553.5H357.2M357.8 546.5H371.2M357.8 553.5H371.2M371.8 546.5H385.2M371.8 553.5H385.2M385.8 546.5H399.2M385.8 553.5H399.2M399.8 546.5H413.2M399.8 553.5H413.2M413.8 546.5H427.2M413.8 553.5H427.2M427.8 546.5H441.2M427.8 553.5H441.2M441.8 546.5H455.2M441.8 553.5H455.2M455.8 546.5H469.2M455.8 553.5H469.2" fill="none" stroke="#333" stroke-width="1.3"/>
<path d="M302.5 468.7V480.3M302.5 484.7V495.3M302.5 499.7V510.3M302.5 514.7V525.3M302.5 529.7V540.3M302.5 544.7V556.3M316.5 468.7V480.3M316.5 484.7V495.3M316.5 499.7V510.3M316.5 514.7V525.3M316.5 529.7V540.3M316.5 544.7V556.3M330.5 468.7V480.3M330.5 484.7V495.3M330.5 499.7V510.3M330.5 514.7V525.3M330.5 529.7V540.3M330.5 544.7V556.3M343.5 468.7V480.3M343.5 484.7V495.3M343.5 499.7V510.3M343.5 514.7V525.3M343.5 529.7V540.3M343.5 544.7V556.3M357.5 468.7V480.3M357.5 484.7V495.3M357.5 499.7V510.3M357.5 514.7V525.3M357.5 529.7V540.3M357.5 544.7V556.3M371.5 468.7V480.3M371.5 484.7V495.3M371.5 499.7V510.3M371.5 514.7V525.3M371.5 529.7V540.3M371.5 544.7V556.3M385.5 468.7V480.3M385.5 484.7V495.3M385.5 499.7V510.3M385.5 514.7V525.3M385.5 529.7V540.3M385.5 544.7V556.3M399.5 468.7V480.3M399.5 484.7V495.3M399.5 499.7V510.3M399.5 514.7V525.3M399.5 529.7V540.3M399.5 544.7V556.3M413.5 468.7V480.3M413.5 484.7V495.3M413.5 499.7V510.3M413.5 514.7V525.3M413.5 529.7V540.3M413.5 544.7V556.3M427.5 468.7V480.3M427.5 484.7V495.3M427.5 499.7V510.3M427.5 514.7V525.3M427.5 529.7V540.3M427.5 544.7V556.3M441.5 468.7V480.3M441.5 484.7V495.3M441.5 499.7V510.3M441.5 514.7V525.3M441.5 529.7V540.3M441.5 544.7V556.3M455.5 468.7V480.3M455.5 484.7V495.3M455.5 499.7V510.3M455.5 514.7V525.3M455.5 529.7V540.3M455.5 544.7V556.3M469.5 468.7V480.3M469.5 484.7V495.3M469.5 499.7V510.3M469.5 514.7V525.3M469.5 529.7V540.3M469.5 544.7V556.3" fill="none" stroke="#111" stroke-width="1.6"/>
<path d="M317.50 562.00C317.73 560.65 317.93 556.28 318.90 553.91C319.87 551.54 320.93 549.60 323.30 547.80C325.67 545.99 329.62 544.58 333.13 543.09C336.64 541.60 341.08 540.27 344.36 538.86C347.63 537.45 350.13 536.00 352.78 534.62C355.43 533.25 357.15 531.72 360.26 530.58C363.38 529.44 367.55 527.88 371.49 527.76C375.44 527.63 380.31 528.67 383.94 529.83C387.58 530.99 389.87 533.40 393.30 534.72C396.73 536.04 400.36 537.35 404.53 537.73C408.69 538.11 413.92 537.29 418.29 536.98C422.65 536.66 426.91 535.63 430.73 535.85C434.55 536.07 438.48 536.85 441.21 538.29C443.94 539.74 445.69 542.06 447.11 544.50C448.53 546.95 449.14 550.05 449.73 552.97C450.32 555.89 450.51 560.49 450.67 562.00L450.67 564.00L317.50 564.00Z" fill="#fff" stroke="none"/>
<path d="M317.50 562.00C317.73 560.65 317.93 556.28 318.90 553.91C319.87 551.54 320.93 549.60 323.30 547.80C325.67 545.99 329.62 544.58 333.13 543.09C336.64 541.60 341.08 540.27 344.36 538.86C347.63 537.45 350.13 536.00 352.78 534.62C355.43 533.25 357.15 531.72 360.26 530.58C363.38 529.44 367.55 527.88 371.49 527.76C375.44 527.63 380.31 528.67 383.94 529.83C387.58 530.99 389.87 533.40 393.30 534.72C396.73 536.04 400.36 537.35 404.53 537.73C408.69 538.11 413.92 537.29 418.29 536.98C422.65 536.66 426.91 535.63 430.73 535.85C434.55 536.07 438.48 536.85 441.21 538.29C443.94 539.74 445.69 542.06 447.11 544.50C448.53 546.95 449.14 550.05 449.73 552.97C450.32 555.89 450.51 560.49 450.67 562.00" fill="none" stroke="#222" stroke-width="1.1"/>
<rect x="363.5" y="529.5" width="24" height="12" fill="#fff" stroke="#222" stroke-width="1.1"/>
</g>
<path d="M368.5 541.1V625.1H382.5" fill="none" stroke="#222" stroke-width="1.2"/>
<use href="#invB" x="402.5" y="574.5"/>
<text x="410.7" y="614.6" font-family='"Liberation Sans", sans-serif' font-size="10.6" font-weight="bold" font-style="normal" fill="#111" textLength="21" lengthAdjust="spacingAndGlyphs" >Grid</text>
<text x="438.7" y="614.6" font-family='"Liberation Sans", sans-serif' font-size="10.6" font-weight="bold" font-style="normal" fill="#111" textLength="15" lengthAdjust="spacingAndGlyphs" >Tie</text>
<text x="457.7" y="614.6" font-family='"Liberation Sans", sans-serif' font-size="10.6" font-weight="bold" font-style="normal" fill="#111" textLength="38.2" lengthAdjust="spacingAndGlyphs" >Inverter</text>
<text x="385.5" y="645.3" font-family='"Liberation Sans", sans-serif' font-size="10" font-weight="normal" font-style="normal" fill="#222" stroke="#222" stroke-width="0.25" textLength="12.2" lengthAdjust="spacingAndGlyphs" >DC</text>
<text x="520.3" y="645.2" font-family='"Liberation Sans", sans-serif' font-size="9.6" font-weight="normal" font-style="normal" fill="#222" stroke="#222" stroke-width="0.25" textLength="11.8" lengthAdjust="spacingAndGlyphs" >AC</text>
<text x="423.9" y="659.6" font-family='"Liberation Sans", sans-serif' font-size="11" font-weight="normal" font-style="normal" fill="#222" stroke="#222" stroke-width="0.2" textLength="50" lengthAdjust="spacing" >Inverter</text>
<text x="494.9" y="660" font-family='"Liberation Sans", sans-serif' font-size="10" font-weight="normal" font-style="normal" fill="#222" >2</text>
<path d="M513.1 624H519.7V675" fill="none" stroke="#222" stroke-width="1.3"/>
<path d="M515.2 673.6H524.2L519.7 679.2Z" fill="#111"/>
<text x="556.4" y="459" font-family='"Liberation Sans", sans-serif' font-size="12.2" font-weight="normal" font-style="normal" fill="#222" stroke="#222" stroke-width="0.2" textLength="68.3" lengthAdjust="spacing" >Solar Panel</text>
<g filter="url(#soft)">
<rect x="507.5" y="464.8" width="172.6" height="96.0" fill="#fff" stroke="#2a2a2a" stroke-width="2.4"/>
<rect x="509.09999999999997" y="466.4" width="169.39999999999998" height="92.80000000000001" fill="none" stroke="#aaa" stroke-width="0.8"/>
<path d="M511.6 467.5L521.4 467.5L523.2 469.3M523.2 479.7L521.4 481.5L511.6 481.5L509.8 479.7M509.8 469.3L511.6 467.5M525.6 467.5L535.4 467.5L537.2 469.3M537.2 479.7L535.4 481.5L525.6 481.5L523.8 479.7M523.8 469.3L525.6 467.5M539.6 467.5L549.4 467.5L551.2 469.3M551.2 479.7L549.4 481.5L539.6 481.5L537.8 479.7M537.8 469.3L539.6 467.5M553.6 467.5L563.4 467.5L565.2 469.3M565.2 479.7L563.4 481.5L553.6 481.5L551.8 479.7M551.8 469.3L553.6 467.5M567.6 467.5L577.4 467.5L579.2 469.3M579.2 479.7L577.4 481.5L567.6 481.5L565.8 479.7M565.8 469.3L567.6 467.5M581.6 467.5L591.4 467.5L593.2 469.3M593.2 479.7L591.4 481.5L581.6 481.5L579.8 479.7M579.8 469.3L581.6 467.5M595.6 467.5L605.4 467.5L607.2 469.3M607.2 479.7L605.4 481.5L595.6 481.5L593.8 479.7M593.8 469.3L595.6 467.5M609.6 467.5L619.4 467.5L621.2 469.3M621.2 479.7L619.4 481.5L609.6 481.5L607.8 479.7M607.8 469.3L609.6 467.5M623.6 467.5L633.4 467.5L635.2 469.3M635.2 479.7L633.4 481.5L623.6 481.5L621.8 479.7M621.8 469.3L623.6 467.5M637.6 467.5L647.4 467.5L649.2 469.3M649.2 479.7L647.4 481.5L637.6 481.5L635.8 479.7M635.8 469.3L637.6 467.5M651.6 467.5L661.4 467.5L663.2 469.3M663.2 479.7L661.4 481.5L651.6 481.5L649.8 479.7M649.8 469.3L651.6 467.5M665.6 467.5L675.4 467.5L677.2 469.3M677.2 479.7L675.4 481.5L665.6 481.5L663.8 479.7M663.8 469.3L665.6 467.5M511.6 483.5L521.4 483.5L523.2 485.3M523.2 494.7L521.4 496.5L511.6 496.5L509.8 494.7M509.8 485.3L511.6 483.5M525.6 483.5L535.4 483.5L537.2 485.3M537.2 494.7L535.4 496.5L525.6 496.5L523.8 494.7M523.8 485.3L525.6 483.5M539.6 483.5L549.4 483.5L551.2 485.3M551.2 494.7L549.4 496.5L539.6 496.5L537.8 494.7M537.8 485.3L539.6 483.5M553.6 483.5L563.4 483.5L565.2 485.3M565.2 494.7L563.4 496.5L553.6 496.5L551.8 494.7M551.8 485.3L553.6 483.5M567.6 483.5L577.4 483.5L579.2 485.3M579.2 494.7L577.4 496.5L567.6 496.5L565.8 494.7M565.8 485.3L567.6 483.5M581.6 483.5L591.4 483.5L593.2 485.3M593.2 494.7L591.4 496.5L581.6 496.5L579.8 494.7M579.8 485.3L581.6 483.5M595.6 483.5L605.4 483.5L607.2 485.3M607.2 494.7L605.4 496.5L595.6 496.5L593.8 494.7M593.8 485.3L595.6 483.5M609.6 483.5L619.4 483.5L621.2 485.3M621.2 494.7L619.4 496.5L609.6 496.5L607.8 494.7M607.8 485.3L609.6 483.5M623.6 483.5L633.4 483.5L635.2 485.3M635.2 494.7L633.4 496.5L623.6 496.5L621.8 494.7M621.8 485.3L623.6 483.5M637.6 483.5L647.4 483.5L649.2 485.3M649.2 494.7L647.4 496.5L637.6 496.5L635.8 494.7M635.8 485.3L637.6 483.5M651.6 483.5L661.4 483.5L663.2 485.3M663.2 494.7L661.4 496.5L651.6 496.5L649.8 494.7M649.8 485.3L651.6 483.5M665.6 483.5L675.4 483.5L677.2 485.3M677.2 494.7L675.4 496.5L665.6 496.5L663.8 494.7M663.8 485.3L665.6 483.5M511.6 498.5L521.4 498.5L523.2 500.3M523.2 509.7L521.4 511.5L511.6 511.5L509.8 509.7M509.8 500.3L511.6 498.5M525.6 498.5L535.4 498.5L537.2 500.3M537.2 509.7L535.4 511.5L525.6 511.5L523.8 509.7M523.8 500.3L525.6 498.5M539.6 498.5L549.4 498.5L551.2 500.3M551.2 509.7L549.4 511.5L539.6 511.5L537.8 509.7M537.8 500.3L539.6 498.5M553.6 498.5L563.4 498.5L565.2 500.3M565.2 509.7L563.4 511.5L553.6 511.5L551.8 509.7M551.8 500.3L553.6 498.5M567.6 498.5L577.4 498.5L579.2 500.3M579.2 509.7L577.4 511.5L567.6 511.5L565.8 509.7M565.8 500.3L567.6 498.5M581.6 498.5L591.4 498.5L593.2 500.3M593.2 509.7L591.4 511.5L581.6 511.5L579.8 509.7M579.8 500.3L581.6 498.5M595.6 498.5L605.4 498.5L607.2 500.3M607.2 509.7L605.4 511.5L595.6 511.5L593.8 509.7M593.8 500.3L595.6 498.5M609.6 498.5L619.4 498.5L621.2 500.3M621.2 509.7L619.4 511.5L609.6 511.5L607.8 509.7M607.8 500.3L609.6 498.5M623.6 498.5L633.4 498.5L635.2 500.3M635.2 509.7L633.4 511.5L623.6 511.5L621.8 509.7M621.8 500.3L623.6 498.5M637.6 498.5L647.4 498.5L649.2 500.3M649.2 509.7L647.4 511.5L637.6 511.5L635.8 509.7M635.8 500.3L637.6 498.5M651.6 498.5L661.4 498.5L663.2 500.3M663.2 509.7L661.4 511.5L651.6 511.5L649.8 509.7M649.8 500.3L651.6 498.5M665.6 498.5L675.4 498.5L677.2 500.3M677.2 509.7L675.4 511.5L665.6 511.5L663.8 509.7M663.8 500.3L665.6 498.5M511.6 513.5L521.4 513.5L523.2 515.3M523.2 524.7L521.4 526.5L511.6 526.5L509.8 524.7M509.8 515.3L511.6 513.5M525.6 513.5L535.4 513.5L537.2 515.3M537.2 524.7L535.4 526.5L525.6 526.5L523.8 524.7M523.8 515.3L525.6 513.5M539.6 513.5L549.4 513.5L551.2 515.3M551.2 524.7L549.4 526.5L539.6 526.5L537.8 524.7M537.8 515.3L539.6 513.5M553.6 513.5L563.4 513.5L565.2 515.3M565.2 524.7L563.4 526.5L553.6 526.5L551.8 524.7M551.8 515.3L553.6 513.5M567.6 513.5L577.4 513.5L579.2 515.3M579.2 524.7L577.4 526.5L567.6 526.5L565.8 524.7M565.8 515.3L567.6 513.5M581.6 513.5L591.4 513.5L593.2 515.3M593.2 524.7L591.4 526.5L581.6 526.5L579.8 524.7M579.8 515.3L581.6 513.5M595.6 513.5L605.4 513.5L607.2 515.3M607.2 524.7L605.4 526.5L595.6 526.5L593.8 524.7M593.8 515.3L595.6 513.5M609.6 513.5L619.4 513.5L621.2 515.3M621.2 524.7L619.4 526.5L609.6 526.5L607.8 524.7M607.8 515.3L609.6 513.5M623.6 513.5L633.4 513.5L635.2 515.3M635.2 524.7L633.4 526.5L623.6 526.5L621.8 524.7M621.8 515.3L623.6 513.5M637.6 513.5L647.4 513.5L649.2 515.3M649.2 524.7L647.4 526.5L637.6 526.5L635.8 524.7M635.8 515.3L637.6 513.5M651.6 513.5L661.4 513.5L663.2 515.3M663.2 524.7L661.4 526.5L651.6 526.5L649.8 524.7M649.8 515.3L651.6 513.5M665.6 513.5L675.4 513.5L677.2 515.3M677.2 524.7L675.4 526.5L665.6 526.5L663.8 524.7M663.8 515.3L665.6 513.5M511.6 528.5L521.4 528.5L523.2 530.3M523.2 539.7L521.4 541.5L511.6 541.5L509.8 539.7M509.8 530.3L511.6 528.5M525.6 528.5L535.4 528.5L537.2 530.3M537.2 539.7L535.4 541.5L525.6 541.5L523.8 539.7M523.8 530.3L525.6 528.5M539.6 528.5L549.4 528.5L551.2 530.3M551.2 539.7L549.4 541.5L539.6 541.5L537.8 539.7M537.8 530.3L539.6 528.5M553.6 528.5L563.4 528.5L565.2 530.3M565.2 539.7L563.4 541.5L553.6 541.5L551.8 539.7M551.8 530.3L553.6 528.5M567.6 528.5L577.4 528.5L579.2 530.3M579.2 539.7L577.4 541.5L567.6 541.5L565.8 539.7M565.8 530.3L567.6 528.5M581.6 528.5L591.4 528.5L593.2 530.3M593.2 539.7L591.4 541.5L581.6 541.5L579.8 539.7M579.8 530.3L581.6 528.5M595.6 528.5L605.4 528.5L607.2 530.3M607.2 539.7L605.4 541.5L595.6 541.5L593.8 539.7M593.8 530.3L595.6 528.5M609.6 528.5L619.4 528.5L621.2 530.3M621.2 539.7L619.4 541.5L609.6 541.5L607.8 539.7M607.8 530.3L609.6 528.5M623.6 528.5L633.4 528.5L635.2 530.3M635.2 539.7L633.4 541.5L623.6 541.5L621.8 539.7M621.8 530.3L623.6 528.5M637.6 528.5L647.4 528.5L649.2 530.3M649.2 539.7L647.4 541.5L637.6 541.5L635.8 539.7M635.8 530.3L637.6 528.5M651.6 528.5L661.4 528.5L663.2 530.3M663.2 539.7L661.4 541.5L651.6 541.5L649.8 539.7M649.8 530.3L651.6 528.5M665.6 528.5L675.4 528.5L677.2 530.3M677.2 539.7L675.4 541.5L665.6 541.5L663.8 539.7M663.8 530.3L665.6 528.5M511.6 543.5L521.4 543.5L523.2 545.3M523.2 555.7L521.4 557.5L511.6 557.5L509.8 555.7M509.8 545.3L511.6 543.5M525.6 543.5L535.4 543.5L537.2 545.3M537.2 555.7L535.4 557.5L525.6 557.5L523.8 555.7M523.8 545.3L525.6 543.5M539.6 543.5L549.4 543.5L551.2 545.3M551.2 555.7L549.4 557.5L539.6 557.5L537.8 555.7M537.8 545.3L539.6 543.5M553.6 543.5L563.4 543.5L565.2 545.3M565.2 555.7L563.4 557.5L553.6 557.5L551.8 555.7M551.8 545.3L553.6 543.5M567.6 543.5L577.4 543.5L579.2 545.3M579.2 555.7L577.4 557.5L567.6 557.5L565.8 555.7M565.8 545.3L567.6 543.5M581.6 543.5L591.4 543.5L593.2 545.3M593.2 555.7L591.4 557.5L581.6 557.5L579.8 555.7M579.8 545.3L581.6 543.5M595.6 543.5L605.4 543.5L607.2 545.3M607.2 555.7L605.4 557.5L595.6 557.5L593.8 555.7M593.8 545.3L595.6 543.5M609.6 543.5L619.4 543.5L621.2 545.3M621.2 555.7L619.4 557.5L609.6 557.5L607.8 555.7M607.8 545.3L609.6 543.5M623.6 543.5L633.4 543.5L635.2 545.3M635.2 555.7L633.4 557.5L623.6 557.5L621.8 555.7M621.8 545.3L623.6 543.5M637.6 543.5L647.4 543.5L649.2 545.3M649.2 555.7L647.4 557.5L637.6 557.5L635.8 555.7M635.8 545.3L637.6 543.5M651.6 543.5L661.4 543.5L663.2 545.3M663.2 555.7L661.4 557.5L651.6 557.5L649.8 555.7M649.8 545.3L651.6 543.5M665.6 543.5L675.4 543.5L677.2 545.3M677.2 555.7L675.4 557.5L665.6 557.5L663.8 555.7M663.8 545.3L665.6 543.5" fill="none" stroke="#484848" stroke-width="0.85"/>
<path d="M509.8 470.5H523.2M509.8 477.5H523.2M523.8 470.5H537.2M523.8 477.5H537.2M537.8 470.5H551.2M537.8 477.5H551.2M551.8 470.5H565.2M551.8 477.5H565.2M565.8 470.5H579.2M565.8 477.5H579.2M579.8 470.5H593.2M579.8 477.5H593.2M593.8 470.5H607.2M593.8 477.5H607.2M607.8 470.5H621.2M607.8 477.5H621.2M621.8 470.5H635.2M621.8 477.5H635.2M635.8 470.5H649.2M635.8 477.5H649.2M649.8 470.5H663.2M649.8 477.5H663.2M663.8 470.5H677.2M663.8 477.5H677.2M509.8 486.5H523.2M509.8 493.5H523.2M523.8 486.5H537.2M523.8 493.5H537.2M537.8 486.5H551.2M537.8 493.5H551.2M551.8 486.5H565.2M551.8 493.5H565.2M565.8 486.5H579.2M565.8 493.5H579.2M579.8 486.5H593.2M579.8 493.5H593.2M593.8 486.5H607.2M593.8 493.5H607.2M607.8 486.5H621.2M607.8 493.5H621.2M621.8 486.5H635.2M621.8 493.5H635.2M635.8 486.5H649.2M635.8 493.5H649.2M649.8 486.5H663.2M649.8 493.5H663.2M663.8 486.5H677.2M663.8 493.5H677.2M509.8 501.5H523.2M509.8 508.5H523.2M523.8 501.5H537.2M523.8 508.5H537.2M537.8 501.5H551.2M537.8 508.5H551.2M551.8 501.5H565.2M551.8 508.5H565.2M565.8 501.5H579.2M565.8 508.5H579.2M579.8 501.5H593.2M579.8 508.5H593.2M593.8 501.5H607.2M593.8 508.5H607.2M607.8 501.5H621.2M607.8 508.5H621.2M621.8 501.5H635.2M621.8 508.5H635.2M635.8 501.5H649.2M635.8 508.5H649.2M649.8 501.5H663.2M649.8 508.5H663.2M663.8 501.5H677.2M663.8 508.5H677.2M509.8 516.5H523.2M509.8 523.5H523.2M523.8 516.5H537.2M523.8 523.5H537.2M537.8 516.5H551.2M537.8 523.5H551.2M551.8 516.5H565.2M551.8 523.5H565.2M565.8 516.5H579.2M565.8 523.5H579.2M579.8 516.5H593.2M579.8 523.5H593.2M593.8 516.5H607.2M593.8 523.5H607.2M607.8 516.5H621.2M607.8 523.5H621.2M621.8 516.5H635.2M621.8 523.5H635.2M635.8 516.5H649.2M635.8 523.5H649.2M649.8 516.5H663.2M649.8 523.5H663.2M663.8 516.5H677.2M663.8 523.5H677.2M509.8 531.5H523.2M509.8 538.5H523.2M523.8 531.5H537.2M523.8 538.5H537.2M537.8 531.5H551.2M537.8 538.5H551.2M551.8 531.5H565.2M551.8 538.5H565.2M565.8 531.5H579.2M565.8 538.5H579.2M579.8 531.5H593.2M579.8 538.5H593.2M593.8 531.5H607.2M593.8 538.5H607.2M607.8 531.5H621.2M607.8 538.5H621.2M621.8 531.5H635.2M621.8 538.5H635.2M635.8 531.5H649.2M635.8 538.5H649.2M649.8 531.5H663.2M649.8 538.5H663.2M663.8 531.5H677.2M663.8 538.5H677.2M509.8 546.5H523.2M509.8 553.5H523.2M523.8 546.5H537.2M523.8 553.5H537.2M537.8 546.5H551.2M537.8 553.5H551.2M551.8 546.5H565.2M551.8 553.5H565.2M565.8 546.5H579.2M565.8 553.5H579.2M579.8 546.5H593.2M579.8 553.5H593.2M593.8 546.5H607.2M593.8 553.5H607.2M607.8 546.5H621.2M607.8 553.5H621.2M621.8 546.5H635.2M621.8 553.5H635.2M635.8 546.5H649.2M635.8 553.5H649.2M649.8 546.5H663.2M649.8 553.5H663.2M663.8 546.5H677.2M663.8 553.5H677.2" fill="none" stroke="#333" stroke-width="1.3"/>
<path d="M509.5 468.7V480.3M509.5 484.7V495.3M509.5 499.7V510.3M509.5 514.7V525.3M509.5 529.7V540.3M509.5 544.7V556.3M523.5 468.7V480.3M523.5 484.7V495.3M523.5 499.7V510.3M523.5 514.7V525.3M523.5 529.7V540.3M523.5 544.7V556.3M537.5 468.7V480.3M537.5 484.7V495.3M537.5 499.7V510.3M537.5 514.7V525.3M537.5 529.7V540.3M537.5 544.7V556.3M551.5 468.7V480.3M551.5 484.7V495.3M551.5 499.7V510.3M551.5 514.7V525.3M551.5 529.7V540.3M551.5 544.7V556.3M565.5 468.7V480.3M565.5 484.7V495.3M565.5 499.7V510.3M565.5 514.7V525.3M565.5 529.7V540.3M565.5 544.7V556.3M579.5 468.7V480.3M579.5 484.7V495.3M579.5 499.7V510.3M579.5 514.7V525.3M579.5 529.7V540.3M579.5 544.7V556.3M593.5 468.7V480.3M593.5 484.7V495.3M593.5 499.7V510.3M593.5 514.7V525.3M593.5 529.7V540.3M593.5 544.7V556.3M607.5 468.7V480.3M607.5 484.7V495.3M607.5 499.7V510.3M607.5 514.7V525.3M607.5 529.7V540.3M607.5 544.7V556.3M621.5 468.7V480.3M621.5 484.7V495.3M621.5 499.7V510.3M621.5 514.7V525.3M621.5 529.7V540.3M621.5 544.7V556.3M635.5 468.7V480.3M635.5 484.7V495.3M635.5 499.7V510.3M635.5 514.7V525.3M635.5 529.7V540.3M635.5 544.7V556.3M649.5 468.7V480.3M649.5 484.7V495.3M649.5 499.7V510.3M649.5 514.7V525.3M649.5 529.7V540.3M649.5 544.7V556.3M663.5 468.7V480.3M663.5 484.7V495.3M663.5 499.7V510.3M663.5 514.7V525.3M663.5 529.7V540.3M663.5 544.7V556.3M677.5 468.7V480.3M677.5 484.7V495.3M677.5 499.7V510.3M677.5 514.7V525.3M677.5 529.7V540.3M677.5 544.7V556.3" fill="none" stroke="#111" stroke-width="1.6"/>
<path d="M525.30 562.00C525.53 560.65 525.73 556.28 526.70 553.91C527.67 551.54 528.73 549.60 531.10 547.80C533.47 545.99 537.42 544.58 540.93 543.09C544.44 541.60 548.88 540.27 552.16 538.86C555.43 537.45 557.93 536.00 560.58 534.62C563.23 533.25 564.95 531.72 568.06 530.58C571.18 529.44 575.35 527.88 579.29 527.76C583.24 527.63 588.11 528.67 591.74 529.83C595.38 530.99 597.67 533.40 601.10 534.72C604.53 536.04 608.16 537.35 612.33 537.73C616.49 538.11 621.72 537.29 626.09 536.98C630.45 536.66 634.71 535.63 638.53 535.85C642.35 536.07 646.28 536.85 649.01 538.29C651.74 539.74 653.49 542.06 654.91 544.50C656.33 546.95 656.94 550.05 657.53 552.97C658.12 555.89 658.31 560.49 658.47 562.00L658.47 564.00L525.30 564.00Z" fill="#fff" stroke="none"/>
<path d="M525.30 562.00C525.53 560.65 525.73 556.28 526.70 553.91C527.67 551.54 528.73 549.60 531.10 547.80C533.47 545.99 537.42 544.58 540.93 543.09C544.44 541.60 548.88 540.27 552.16 538.86C555.43 537.45 557.93 536.00 560.58 534.62C563.23 533.25 564.95 531.72 568.06 530.58C571.18 529.44 575.35 527.88 579.29 527.76C583.24 527.63 588.11 528.67 591.74 529.83C595.38 530.99 597.67 533.40 601.10 534.72C604.53 536.04 608.16 537.35 612.33 537.73C616.49 538.11 621.72 537.29 626.09 536.98C630.45 536.66 634.71 535.63 638.53 535.85C642.35 536.07 646.28 536.85 649.01 538.29C651.74 539.74 653.49 542.06 654.91 544.50C656.33 546.95 656.94 550.05 657.53 552.97C658.12 555.89 658.31 560.49 658.47 562.00" fill="none" stroke="#222" stroke-width="1.1"/>
<rect x="571.5" y="529.5" width="24" height="12" fill="#fff" stroke="#222" stroke-width="1.1"/>
</g>
<path d="M575.5 541.1V625.1H590.1" fill="none" stroke="#222" stroke-width="1.2"/>
<use href="#invB" x="610.1" y="574.5"/>
<text x="618.3000000000001" y="614.6" font-family='"Liberation Sans", sans-serif' font-size="10.6" font-weight="bold" font-style="normal" fill="#111" textLength="21" lengthAdjust="spacingAndGlyphs" >Grid</text>
<text x="646.3000000000001" y="614.6" font-family='"Liberation Sans", sans-serif' font-size="10.6" font-weight="bold" font-style="normal" fill="#111" textLength="15" lengthAdjust="spacingAndGlyphs" >Tie</text>
<text x="665.3000000000001" y="614.6" font-family='"Liberation Sans", sans-serif' font-size="10.6" font-weight="bold" font-style="normal" fill="#111" textLength="38.2" lengthAdjust="spacingAndGlyphs" >Inverter</text>
<text x="593.1" y="645.3" font-family='"Liberation Sans", sans-serif' font-size="10" font-weight="normal" font-style="normal" fill="#222" stroke="#222" stroke-width="0.25" textLength="12.2" lengthAdjust="spacingAndGlyphs" >DC</text>
<text x="727.9" y="645.2" font-family='"Liberation Sans", sans-serif' font-size="9.6" font-weight="normal" font-style="normal" fill="#222" stroke="#222" stroke-width="0.25" textLength="11.8" lengthAdjust="spacingAndGlyphs" >AC</text>
<text x="631.5" y="659.6" font-family='"Liberation Sans", sans-serif' font-size="11" font-weight="normal" font-style="normal" fill="#222" stroke="#222" stroke-width="0.2" textLength="50" lengthAdjust="spacing" >Inverter</text>
<text x="702.5" y="660" font-family='"Liberation Sans", sans-serif' font-size="10" font-weight="normal" font-style="normal" fill="#222" >3</text>
<path d="M720.7 624H727.3000000000001V675" fill="none" stroke="#222" stroke-width="1.3"/>
<path d="M722.8000000000001 673.6H731.8000000000001L727.3000000000001 679.2Z" fill="#111"/>
<rect x="734.0" y="600.8" width="6" height="3.6" fill="#0a0a0a"/>
<rect x="754.4" y="600.8" width="6" height="3.6" fill="#0a0a0a"/>
<rect x="774.8" y="600.8" width="6" height="3.6" fill="#0a0a0a"/>
<rect x="795.2" y="600.8" width="6" height="3.6" fill="#0a0a0a"/>
<rect x="815.6" y="600.8" width="6" height="3.6" fill="#0a0a0a"/>
<rect x="836.0" y="600.8" width="6" height="3.6" fill="#0a0a0a"/>
<rect x="856.4" y="600.8" width="6" height="3.6" fill="#0a0a0a"/>
<path d="M876.3 594.8L891.4 602.6L876.3 610.4Z" fill="#0a0a0a"/>
<text x="873.6" y="638.6" font-family='"Liberation Serif", serif' font-size="19" font-weight="normal" font-style="italic" fill="#111" textLength="14.6" lengthAdjust="spacingAndGlyphs" >N</text>
<path d="M813 678.7H172.9V710.3H448.6V746.4" fill="none" stroke="#333" stroke-width="1.4"/>
<path d="M443.8 746H453.4L448.6 751.7Z" fill="#111"/>
<text x="571" y="708.4" font-family='"Liberation Sans", sans-serif' font-size="15.6" font-weight="normal" font-style="normal" fill="#111" stroke="#111" stroke-width="0.35" textLength="48" lengthAdjust="spacingAndGlyphs" >Power</text>
<text x="629.8" y="708.4" font-family='"Liberation Sans", sans-serif' font-size="15.6" font-weight="normal" font-style="normal" fill="#111" stroke="#111" stroke-width="0.35" textLength="32.4" lengthAdjust="spacingAndGlyphs" >Grid</text>
<use href="#meter" x="328.6" y="738.2"/>
<use href="#meter" x="525" y="733.6"/>
<path d="M377 754.4H510" stroke="#2a2a2a" stroke-width="1.5" fill="none"/>
<path d="M372.6 754.4L378.6 751.9V756.9Z" fill="#111"/><path d="M514 754.4L508 751.9V756.9Z" fill="#111"/>
<path d="M571 753.4H662" stroke="#2a2a2a" stroke-width="1.4" fill="none"/>
<path d="M667 753.4L661 750.9V755.9Z" fill="#111"/>
<text x="334" y="799.5" font-family='"Liberation Sans", sans-serif' font-size="15.8" font-weight="normal" font-style="normal" fill="#111" stroke="#111" stroke-width="0.4" textLength="46" lengthAdjust="spacingAndGlyphs" >Meter</text>
<text x="477.5" y="797" font-family='"Liberation Sans", sans-serif' font-size="15" font-weight="normal" font-style="normal" fill="#111" stroke="#111" stroke-width="0.4" textLength="69.5" lengthAdjust="spacingAndGlyphs" >Two-way</text>
<text x="554.2" y="797" font-family='"Liberation Sans", sans-serif' font-size="15" font-weight="normal" font-style="normal" fill="#111" stroke="#111" stroke-width="0.4" textLength="23.3" lengthAdjust="spacingAndGlyphs" >AC</text>
<text x="582.5" y="797" font-family='"Liberation Sans", sans-serif' font-size="15" font-weight="normal" font-style="normal" fill="#111" stroke="#111" stroke-width="0.4" textLength="42.5" lengthAdjust="spacingAndGlyphs" >Meter</text>
<path d="M348.4 806.2V833" stroke="#2a2a2a" stroke-width="1.4" fill="none"/>
<path d="M345.6 832.2H351.2L348.4 837.5Z" fill="#111"/>
<rect x="226.8" y="821.2" width="288" height="154.2" fill="none" stroke="#444" stroke-width="1.6"/>
<path d="M281 842.6H429" stroke="#2a2a2a" stroke-width="1.5" fill="none"/>
<path d="M277 842.6L283 840.1V845.1Z" fill="#111"/><path d="M434 842.6L427.4 839.4V845.8Z" fill="#111"/>
<path d="M316.5 842.6V857.4" stroke="#2a2a2a" stroke-width="1.4" fill="none"/><path d="M313.7 856.6H319.3L316.5 861.8Z" fill="#111"/>
<path d="M408.6 852.2V889" stroke="#2a2a2a" stroke-width="1.4" fill="none"/><path d="M405.8 888H411.4L408.6 893.3Z" fill="#111"/>
<text x="250.2" y="966.4" font-family='"Liberation Sans", sans-serif' font-size="15.6" font-weight="normal" font-style="normal" fill="#111" stroke="#111" stroke-width="0.4" textLength="90" lengthAdjust="spacingAndGlyphs" >Family Load</text>
<g fill="none" stroke="#0c0c0c" stroke-width="1.75" stroke-linejoin="round" stroke-linecap="round">
<path d="M256.4 839.6H264.6L260.5 843.6Z" fill="#fff" stroke-width="1.3"/>
<path d="M260.5 843.6L253.2 855M260.5 843.6L267.8 855" stroke-width="1.3"/>
<path d="M233.4 855.9H287.8" stroke-width="2.4"/>
<path d="M234 856.6Q236 863.6 241.5 863.8Q246.6 863.2 247.4 857"/>
<path d="M247.4 857Q249 862.6 254 862.6Q259.4 862.4 260.4 857"/>
<path d="M260.6 857Q261.6 862.4 267 862.6Q272 862.6 273.6 857"/>
<path d="M273.6 857Q274.4 863.2 279.5 863.8Q285 863.6 287.2 856.6"/>
<path d="M239.4 864.4L241 866L243.6 864.6M281.6 864.4L280 866L277.4 864.6" stroke-width="1.2"/>
<path d="M244.6 862.4L246 865L248 863.2M276.4 862.4L275 865L273 863.2" stroke-width="1.1"/>
<path d="M249.6 862.4Q251.4 869.4 256 871.6Q260.6 873.6 265 871.6Q269.6 869.4 272.2 862.4" stroke-width="1.6"/>
<path d="M253.6 862.8Q256 865.6 260.6 865.6Q265 865.6 267.6 862.8" stroke-width="1.2"/>
<path d="M258.8 873L260.6 875.6L262.4 873Z" fill="#0c0c0c" stroke-width="1"/>
</g>
<g fill="#fff" stroke="#222" stroke-width="1.4" stroke-linejoin="round">
<path d="M291.3 870.2Q296 865.6 303.4 862.8H330.4V908.8L321.2 918.6"/>
<path d="M291.3 870.2Q306 862.6 318 864.6Q321 865.4 321.2 870.2L330.4 862.8" stroke-width="1.2"/>
<rect x="291.3" y="870.2" width="29.9" height="48.4" stroke-width="1.9"/>
<rect x="292.4" y="871.4" width="27.8" height="10" fill="#8a8a8a" stroke="none"/>
<rect x="293.8" y="874.6" width="11.6" height="3.2" fill="#2a2a2a" stroke="none"/>
<path d="M292.4 881.6H320.2" stroke-width="1"/>
<circle cx="306.2" cy="899.8" r="12.7" stroke="#333" stroke-width="1.3"/>
<path d="M292.2 915.9H320.4" stroke-width="1"/>
</g>
<rect x="310.4" y="874.4" width="2.6" height="4" fill="#eee"/><rect x="314.6" y="874.8" width="1.8" height="3.4" fill="#ddd"/>
<g stroke-linejoin="round">
<rect x="378.4" y="893.4" width="68.4" height="50.4" rx="2" fill="#9a9a9a" stroke="#4a4a4a" stroke-width="1.3"/>
<rect x="382.4" y="897" width="61.2" height="42.6" rx="0.8" fill="#fff" stroke="#555" stroke-width="1"/>
<path d="M410.2 944.4V953.6Q410.2 957 406.6 957.2H399.6Q398 957.4 398 960.4Q398 963.4 399.6 963.6H425.6Q427.2 963.4 427.2 960.4Q427.2 957.4 425.6 957.2H419.2Q415.8 957 415.8 953.6V944.4" fill="#fff" stroke="#555" stroke-width="1.3"/>
</g>
<g fill="#fff" stroke="#2a2a2a" stroke-width="1.3" stroke-linejoin="round">
<path d="M447.8 921.4L458.4 911H474V950.4L465.8 962"/>
<path d="M465.8 921.4L474 911"/>
<rect x="447.8" y="921.4" width="18" height="40.6" stroke-width="1.7"/>
<rect x="449" y="922.6" width="15.6" height="4.4" fill="#666" stroke="none"/>
<rect x="449" y="927" width="15.6" height="17.4" fill="#aaa" stroke="none"/>
<rect x="451.4" y="928.6" width="10.6" height="4.8" stroke-width="0.8"/>
<rect x="451.4" y="937.8" width="10.6" height="5" stroke-width="0.8"/>
<path d="M448.6 945H465" stroke-width="1"/>
<ellipse cx="460.8" cy="952" rx="1.3" ry="4.4" fill="#111" stroke="none"/>
<path d="M448.6 959.4H465" stroke-width="1"/>
</g>
<g fill="#fff" stroke="#3a3a3a" stroke-width="1.3" stroke-linejoin="round">
<path d="M464.6 872.6H473V875H464.6Z" fill="#1a1a1a" stroke="#1a1a1a" stroke-width="0.8"/><path d="M494.6 872.6H502.4V875H494.6Z" fill="#1a1a1a" stroke="#1a1a1a" stroke-width="0.8"/>
<path d="M458.2 838.2V834.4Q458.4 830.6 463 829Q470 826 478 825.2H490Q498 826 505 829Q509.6 830.6 509.8 834.4V838.2V864Q509.8 873 501.4 873H466.6Q458.2 873 458.2 864Z"/>
<path d="M458.2 838.3H509.8" stroke-width="1.3"/>
<path d="M477.4 825.4V827.8Q477.4 829.6 479.2 829.6H488Q489.8 829.6 489.8 827.8V825.4" stroke-width="1.1"/>
<circle cx="502.4" cy="833.4" r="2.9" stroke-width="1.2"/>
<rect x="509.6" y="838.6" width="2.4" height="6.2" fill="#444" stroke-width="0.7"/>
<rect x="462" y="833" width="5.4" height="2.6" rx="1.2" fill="#555" stroke="none"/>
</g>
<g fill="none" stroke="#151515" stroke-linecap="round" stroke-linejoin="round">
<path d="M700.4 681.9H718" stroke-width="1.4"/>
<path d="M704.2 682L648.8 993.5" stroke-width="2.3"/>
<path d="M713.7 682L756.7 993.5" stroke-width="2.3"/>
<path d="M675.8 705H739.6" stroke-width="2.2"/>
<path d="M675.8 705L708 697.6L739.6 705" stroke-width="1.7"/>
<path d="M699.6 702Q708 706.4 716.6 702" stroke-width="1.2"/>
<path d="M669.8 754.5H748.6" stroke-width="2.4"/>
<path d="M669.8 754.5L708.8 746.2L748.6 754.5" stroke-width="1.8"/>
<path d="M698.2 750.8Q708.8 757.6 720 750.8" stroke-width="1.3"/>
<path d="M691 751V754.5M725.6 751V754.5" stroke-width="1.1"/>
<path d="M672 742.5L667.5 768" stroke-width="1.3"/><path d="M746.2 742.5L751 768" stroke-width="1.3"/>
<path d="M641.4 815.6H765.6" stroke-width="1.9"/>
<path d="M641.4 815.6L704.2 797.6L765.6 815.6" stroke-width="2"/>
<path d="M643 815.2L729 809.6M764 815.2L676.4 809" stroke-width="1.1"/>
<path d="M676.4 809Q704 822.4 729 809.6" stroke-width="1.4"/>
<path d="M670 810V815.6M736.6 810.4V815.6" stroke-width="1.1"/>
<path d="M654.8 792.8L627.6 840.4" stroke-width="1.2"/><path d="M762 791L770.5 842" stroke-width="1.2"/>
<path d="M668.8 881H741.2" stroke-width="2.2"/>
<path d="M656.4 950.4H750.8" stroke-width="2.2"/>
<path d="M699.7 707.5L719.6 724.5M717.3 707.5L696.6 724.5" stroke-width="1.2"/>
<path d="M696.6 725L721.9 741.5M719.7 725L693.6 741.5" stroke-width="1.2"/>
<path d="M692.2 760.5L717.8 774L687 789.8M723 761.2L698.2 774L727.6 789.8" stroke-width="1.3"/>
<path d="M679 837L728 811M735 838L683 813M675 856L722 836M738 860L691 833M671 880L724 854M740 880L688 851M670 884L726 909.6M739 884L689 912M667 904L723 931M741 901L692 930M663 920L724 950M743 922L683 950" stroke-width="1.3"/>
</g>
</g>
</svg>
</body></html>
